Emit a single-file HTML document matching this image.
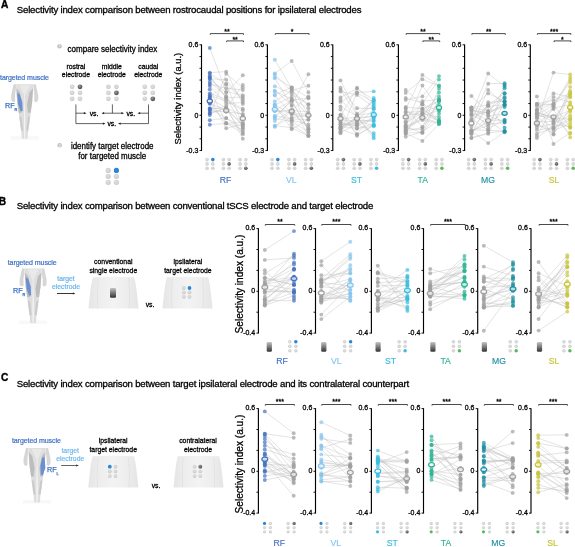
<!DOCTYPE html>
<html><head><meta charset="utf-8"><title>Selectivity index comparison</title>
<style>
html,body{margin:0;padding:0;background:#fff;}
svg{display:block;font-family:'Liberation Sans', Arial, Helvetica, sans-serif;}
</style></head>
<body>
<svg width="575" height="547" viewBox="0 0 575 547">
<defs><radialGradient id="gd" cx="0.45" cy="0.4" r="0.6"><stop offset="0" stop-color="#e2e2e2"/><stop offset="1" stop-color="#c8c8c8"/></radialGradient><radialGradient id="gk" cx="0.4" cy="0.35" r="0.7"><stop offset="0" stop-color="#9a9a9a"/><stop offset="1" stop-color="#404040"/></radialGradient><linearGradient id="ge" x1="0" y1="0" x2="0" y2="1"><stop offset="0" stop-color="#c4c4c4"/><stop offset="1" stop-color="#333"/></linearGradient><linearGradient id="gtor" x1="0" y1="0" x2="1" y2="0"><stop offset="0" stop-color="#e5e5e5"/><stop offset="0.25" stop-color="#eeeeee"/><stop offset="0.5" stop-color="#f3f3f3"/><stop offset="0.75" stop-color="#eeeeee"/><stop offset="1" stop-color="#e5e5e5"/></linearGradient></defs>
<text transform="translate(1.00,7.90) scale(1,1.04)" font-size="10.2" fill="#000" font-weight="bold" stroke="#000" stroke-width="0.35" >A</text>
<text x="16.80" y="12.60" font-size="9.6" fill="#000" stroke="#000" stroke-width="0.3" letter-spacing="-0.18">Selectivity index comparison between rostrocaudal positions for ipsilateral electrodes</text>
<text transform="translate(-1.20,204.60) scale(1,1.04)" font-size="10.2" fill="#000" font-weight="bold" stroke="#000" stroke-width="0.35" >B</text>
<text x="16.70" y="208.50" font-size="9.6" fill="#000" stroke="#000" stroke-width="0.3" letter-spacing="-0.18">Selectivity index comparison between conventional tSCS electrode and target electrode</text>
<text transform="translate(1.00,380.80) scale(1,1.04)" font-size="10.2" fill="#000" font-weight="bold" stroke="#000" stroke-width="0.35" >C</text>
<text x="16.70" y="386.60" font-size="9.6" fill="#000" stroke="#000" stroke-width="0.3" letter-spacing="-0.18">Selectivity index comparison between target ipsilateral electrode and its contralateral counterpart</text>
<line x1="201.50" y1="44.40" x2="201.50" y2="150.95" stroke="#000" stroke-width="1.15" />
<line x1="199.50" y1="44.80" x2="201.50" y2="44.80" stroke="#000" stroke-width="0.9" />
<line x1="199.50" y1="56.55" x2="201.50" y2="56.55" stroke="#000" stroke-width="0.9" />
<line x1="199.50" y1="68.30" x2="201.50" y2="68.30" stroke="#000" stroke-width="0.9" />
<line x1="199.50" y1="80.05" x2="201.50" y2="80.05" stroke="#000" stroke-width="0.9" />
<line x1="199.50" y1="91.80" x2="201.50" y2="91.80" stroke="#000" stroke-width="0.9" />
<line x1="199.50" y1="103.55" x2="201.50" y2="103.55" stroke="#000" stroke-width="0.9" />
<line x1="199.50" y1="115.30" x2="201.50" y2="115.30" stroke="#000" stroke-width="0.9" />
<line x1="199.50" y1="127.05" x2="201.50" y2="127.05" stroke="#000" stroke-width="0.9" />
<line x1="199.50" y1="138.80" x2="201.50" y2="138.80" stroke="#000" stroke-width="0.9" />
<line x1="199.50" y1="150.55" x2="201.50" y2="150.55" stroke="#000" stroke-width="0.9" />
<text transform="translate(198.30,47.00) scale(1,1.04)" font-size="7.0" text-anchor="end" fill="#000" stroke="#000" stroke-width="0.27" >0.6</text>
<text transform="translate(198.30,117.50) scale(1,1.04)" font-size="7.0" text-anchor="end" fill="#000" stroke="#000" stroke-width="0.27" >0</text>
<text transform="translate(198.30,152.75) scale(1,1.04)" font-size="7.0" text-anchor="end" fill="#000" stroke="#000" stroke-width="0.27" >-0.3</text>
<g fill="none" stroke="#c2c2c2" stroke-width="0.45"><polyline points="209.8,76.2 226.2,97.9 242.8,97.0"/><polyline points="209.8,76.9 226.2,97.0 242.8,116.5"/><polyline points="209.8,86.0 226.2,103.6 242.8,102.4"/><polyline points="209.8,47.9 226.2,91.6 242.8,95.2"/><polyline points="209.8,95.3 226.2,101.2 242.8,110.2"/><polyline points="209.8,108.4 226.2,108.7 242.8,134.3"/><polyline points="209.8,113.0 226.2,108.1 242.8,85.0"/><polyline points="209.8,72.6 226.2,71.6 242.8,104.1"/><polyline points="209.8,124.7 226.2,123.4 242.8,122.3"/><polyline points="209.8,110.9 226.2,111.8 242.8,113.9"/><polyline points="209.8,98.7 226.2,107.8 242.8,115.1"/><polyline points="209.8,97.2 226.2,128.3 242.8,124.4"/><polyline points="209.8,108.5 226.2,118.1 242.8,131.5"/><polyline points="209.8,81.9 226.2,96.4 242.8,128.1"/><polyline points="209.8,89.4 226.2,123.0 242.8,129.4"/><polyline points="209.8,78.7 226.2,79.8 242.8,100.6"/><polyline points="209.8,84.0 226.2,88.3 242.8,90.0"/><polyline points="209.8,113.6 226.2,108.3 242.8,125.8"/><polyline points="209.8,115.1 226.2,73.7 242.8,87.5"/><polyline points="209.8,109.9 226.2,106.0 242.8,138.8"/><polyline points="209.8,78.8 226.2,93.0 242.8,75.2"/><polyline points="209.8,93.5 226.2,99.3 242.8,108.7"/><polyline points="209.8,103.7 226.2,109.8 242.8,123.7"/><polyline points="209.8,120.2 226.2,118.1 242.8,127.4"/><polyline points="209.8,73.7 226.2,83.9 242.8,125.5"/><polyline points="209.8,96.9 226.2,84.3 242.8,98.7"/><polyline points="209.8,103.2 226.2,123.4 242.8,133.1"/></g>
<g fill="#4572c0" fill-opacity="0.7"><circle cx="209.8" cy="76.2" r="1.95"/><circle cx="209.8" cy="76.9" r="1.95"/><circle cx="209.8" cy="86.0" r="1.95"/><circle cx="209.8" cy="47.9" r="1.95"/><circle cx="209.8" cy="95.3" r="1.95"/><circle cx="209.8" cy="108.4" r="1.95"/><circle cx="209.8" cy="113.0" r="1.95"/><circle cx="209.8" cy="72.6" r="1.95"/><circle cx="209.8" cy="124.7" r="1.95"/><circle cx="209.8" cy="110.9" r="1.95"/><circle cx="209.8" cy="98.7" r="1.95"/><circle cx="209.8" cy="97.2" r="1.95"/><circle cx="209.8" cy="108.5" r="1.95"/><circle cx="209.8" cy="81.9" r="1.95"/><circle cx="209.8" cy="89.4" r="1.95"/><circle cx="209.8" cy="78.7" r="1.95"/><circle cx="209.8" cy="84.0" r="1.95"/><circle cx="209.8" cy="113.6" r="1.95"/><circle cx="209.8" cy="115.1" r="1.95"/><circle cx="209.8" cy="109.9" r="1.95"/><circle cx="209.8" cy="78.8" r="1.95"/><circle cx="209.8" cy="93.5" r="1.95"/><circle cx="209.8" cy="103.7" r="1.95"/><circle cx="209.8" cy="120.2" r="1.95"/><circle cx="209.8" cy="73.7" r="1.95"/><circle cx="209.8" cy="96.9" r="1.95"/><circle cx="209.8" cy="103.2" r="1.95"/></g>
<g fill="#a0a0a0" fill-opacity="0.7"><circle cx="226.2" cy="97.9" r="1.95"/><circle cx="226.2" cy="97.0" r="1.95"/><circle cx="226.2" cy="103.6" r="1.95"/><circle cx="226.2" cy="91.6" r="1.95"/><circle cx="226.2" cy="101.2" r="1.95"/><circle cx="226.2" cy="108.7" r="1.95"/><circle cx="226.2" cy="108.1" r="1.95"/><circle cx="226.2" cy="71.6" r="1.95"/><circle cx="226.2" cy="123.4" r="1.95"/><circle cx="226.2" cy="111.8" r="1.95"/><circle cx="226.2" cy="107.8" r="1.95"/><circle cx="226.2" cy="128.3" r="1.95"/><circle cx="226.2" cy="118.1" r="1.95"/><circle cx="226.2" cy="96.4" r="1.95"/><circle cx="226.2" cy="123.0" r="1.95"/><circle cx="226.2" cy="79.8" r="1.95"/><circle cx="226.2" cy="88.3" r="1.95"/><circle cx="226.2" cy="108.3" r="1.95"/><circle cx="226.2" cy="73.7" r="1.95"/><circle cx="226.2" cy="106.0" r="1.95"/><circle cx="226.2" cy="93.0" r="1.95"/><circle cx="226.2" cy="99.3" r="1.95"/><circle cx="226.2" cy="109.8" r="1.95"/><circle cx="226.2" cy="118.1" r="1.95"/><circle cx="226.2" cy="83.9" r="1.95"/><circle cx="226.2" cy="84.3" r="1.95"/><circle cx="226.2" cy="123.4" r="1.95"/></g>
<g fill="#a0a0a0" fill-opacity="0.7"><circle cx="242.8" cy="97.0" r="1.95"/><circle cx="242.8" cy="116.5" r="1.95"/><circle cx="242.8" cy="102.4" r="1.95"/><circle cx="242.8" cy="95.2" r="1.95"/><circle cx="242.8" cy="110.2" r="1.95"/><circle cx="242.8" cy="134.3" r="1.95"/><circle cx="242.8" cy="85.0" r="1.95"/><circle cx="242.8" cy="104.1" r="1.95"/><circle cx="242.8" cy="122.3" r="1.95"/><circle cx="242.8" cy="113.9" r="1.95"/><circle cx="242.8" cy="115.1" r="1.95"/><circle cx="242.8" cy="124.4" r="1.95"/><circle cx="242.8" cy="131.5" r="1.95"/><circle cx="242.8" cy="128.1" r="1.95"/><circle cx="242.8" cy="129.4" r="1.95"/><circle cx="242.8" cy="100.6" r="1.95"/><circle cx="242.8" cy="90.0" r="1.95"/><circle cx="242.8" cy="125.8" r="1.95"/><circle cx="242.8" cy="87.5" r="1.95"/><circle cx="242.8" cy="138.8" r="1.95"/><circle cx="242.8" cy="75.2" r="1.95"/><circle cx="242.8" cy="108.7" r="1.95"/><circle cx="242.8" cy="123.7" r="1.95"/><circle cx="242.8" cy="127.4" r="1.95"/><circle cx="242.8" cy="125.5" r="1.95"/><circle cx="242.8" cy="98.7" r="1.95"/><circle cx="242.8" cy="133.1" r="1.95"/></g>
<ellipse cx="209.8" cy="101.0" rx="2.6" ry="2.0" fill="#fff" fill-opacity="0.7" stroke="#4572c0" stroke-width="1.25"/>
<ellipse cx="226.2" cy="110.6" rx="2.6" ry="2.0" fill="#fff" fill-opacity="0.7" stroke="#a0a0a0" stroke-width="1.25"/>
<ellipse cx="242.8" cy="118.4" rx="2.6" ry="2.0" fill="#fff" fill-opacity="0.7" stroke="#a0a0a0" stroke-width="1.25"/>
<path d="M210.3,34.8V33.6H243.5V34.8" fill="none" stroke="#2a2a2a" stroke-width="0.85"/>
<text transform="translate(226.90,33.50) scale(1,1.04)" font-size="7" text-anchor="middle" fill="#000" stroke="#000" stroke-width="0.3" >**</text>
<path d="M226.7,42.1V40.9H243.5V42.1" fill="none" stroke="#2a2a2a" stroke-width="0.85"/>
<text transform="translate(235.10,41.80) scale(1,1.04)" font-size="7" text-anchor="middle" fill="#000" stroke="#000" stroke-width="0.3" >**</text>
<line x1="267.40" y1="44.40" x2="267.40" y2="150.95" stroke="#000" stroke-width="1.15" />
<line x1="265.40" y1="44.80" x2="267.40" y2="44.80" stroke="#000" stroke-width="0.9" />
<line x1="265.40" y1="56.55" x2="267.40" y2="56.55" stroke="#000" stroke-width="0.9" />
<line x1="265.40" y1="68.30" x2="267.40" y2="68.30" stroke="#000" stroke-width="0.9" />
<line x1="265.40" y1="80.05" x2="267.40" y2="80.05" stroke="#000" stroke-width="0.9" />
<line x1="265.40" y1="91.80" x2="267.40" y2="91.80" stroke="#000" stroke-width="0.9" />
<line x1="265.40" y1="103.55" x2="267.40" y2="103.55" stroke="#000" stroke-width="0.9" />
<line x1="265.40" y1="115.30" x2="267.40" y2="115.30" stroke="#000" stroke-width="0.9" />
<line x1="265.40" y1="127.05" x2="267.40" y2="127.05" stroke="#000" stroke-width="0.9" />
<line x1="265.40" y1="138.80" x2="267.40" y2="138.80" stroke="#000" stroke-width="0.9" />
<line x1="265.40" y1="150.55" x2="267.40" y2="150.55" stroke="#000" stroke-width="0.9" />
<text transform="translate(264.20,47.00) scale(1,1.04)" font-size="7.0" text-anchor="end" fill="#000" stroke="#000" stroke-width="0.27" >0.6</text>
<text transform="translate(264.20,117.50) scale(1,1.04)" font-size="7.0" text-anchor="end" fill="#000" stroke="#000" stroke-width="0.27" >0</text>
<text transform="translate(264.20,152.75) scale(1,1.04)" font-size="7.0" text-anchor="end" fill="#000" stroke="#000" stroke-width="0.27" >-0.3</text>
<g fill="none" stroke="#c2c2c2" stroke-width="0.45"><polyline points="274.8,110.8 291.7,112.6 308.4,126.8"/><polyline points="274.8,74.3 291.7,91.4 308.4,104.3"/><polyline points="274.8,104.6 291.7,129.3 308.4,119.4"/><polyline points="274.8,105.2 291.7,96.7 308.4,115.9"/><polyline points="274.8,118.0 291.7,100.1 308.4,98.2"/><polyline points="274.8,86.2 291.7,93.8 308.4,104.7"/><polyline points="274.8,126.9 291.7,110.6 308.4,128.6"/><polyline points="274.8,111.3 291.7,110.3 308.4,96.4"/><polyline points="274.8,116.3 291.7,101.2 308.4,129.4"/><polyline points="274.8,77.1 291.7,87.5 308.4,97.7"/><polyline points="274.8,95.6 291.7,113.9 308.4,113.9"/><polyline points="274.8,78.3 291.7,105.9 308.4,135.7"/><polyline points="274.8,101.4 291.7,90.4 308.4,85.7"/><polyline points="274.8,94.5 291.7,87.5 308.4,114.7"/><polyline points="274.8,107.0 291.7,120.3 308.4,124.5"/><polyline points="274.8,59.7 291.7,88.5 308.4,132.7"/><polyline points="274.8,107.4 291.7,124.3 308.4,135.7"/><polyline points="274.8,126.0 291.7,117.5 308.4,115.3"/><polyline points="274.8,118.6 291.7,121.3 308.4,132.1"/><polyline points="274.8,90.7 291.7,104.7 308.4,74.2"/><polyline points="274.8,110.4 291.7,100.5 308.4,129.4"/><polyline points="274.8,91.4 291.7,99.0 308.4,108.3"/><polyline points="274.8,73.4 291.7,61.0 308.4,92.3"/><polyline points="274.8,104.8 291.7,114.3 308.4,116.3"/><polyline points="274.8,125.6 291.7,127.8 308.4,135.9"/><polyline points="274.8,116.0 291.7,118.9 308.4,119.8"/><polyline points="274.8,121.1 291.7,110.4 308.4,111.9"/></g>
<g fill="#86c5ee" fill-opacity="0.7"><circle cx="274.8" cy="110.8" r="1.95"/><circle cx="274.8" cy="74.3" r="1.95"/><circle cx="274.8" cy="104.6" r="1.95"/><circle cx="274.8" cy="105.2" r="1.95"/><circle cx="274.8" cy="118.0" r="1.95"/><circle cx="274.8" cy="86.2" r="1.95"/><circle cx="274.8" cy="126.9" r="1.95"/><circle cx="274.8" cy="111.3" r="1.95"/><circle cx="274.8" cy="116.3" r="1.95"/><circle cx="274.8" cy="77.1" r="1.95"/><circle cx="274.8" cy="95.6" r="1.95"/><circle cx="274.8" cy="78.3" r="1.95"/><circle cx="274.8" cy="101.4" r="1.95"/><circle cx="274.8" cy="94.5" r="1.95"/><circle cx="274.8" cy="107.0" r="1.95"/><circle cx="274.8" cy="59.7" r="1.95"/><circle cx="274.8" cy="107.4" r="1.95"/><circle cx="274.8" cy="126.0" r="1.95"/><circle cx="274.8" cy="118.6" r="1.95"/><circle cx="274.8" cy="90.7" r="1.95"/><circle cx="274.8" cy="110.4" r="1.95"/><circle cx="274.8" cy="91.4" r="1.95"/><circle cx="274.8" cy="73.4" r="1.95"/><circle cx="274.8" cy="104.8" r="1.95"/><circle cx="274.8" cy="125.6" r="1.95"/><circle cx="274.8" cy="116.0" r="1.95"/><circle cx="274.8" cy="121.1" r="1.95"/></g>
<g fill="#a0a0a0" fill-opacity="0.7"><circle cx="291.7" cy="112.6" r="1.95"/><circle cx="291.7" cy="91.4" r="1.95"/><circle cx="291.7" cy="129.3" r="1.95"/><circle cx="291.7" cy="96.7" r="1.95"/><circle cx="291.7" cy="100.1" r="1.95"/><circle cx="291.7" cy="93.8" r="1.95"/><circle cx="291.7" cy="110.6" r="1.95"/><circle cx="291.7" cy="110.3" r="1.95"/><circle cx="291.7" cy="101.2" r="1.95"/><circle cx="291.7" cy="87.5" r="1.95"/><circle cx="291.7" cy="113.9" r="1.95"/><circle cx="291.7" cy="105.9" r="1.95"/><circle cx="291.7" cy="90.4" r="1.95"/><circle cx="291.7" cy="87.5" r="1.95"/><circle cx="291.7" cy="120.3" r="1.95"/><circle cx="291.7" cy="88.5" r="1.95"/><circle cx="291.7" cy="124.3" r="1.95"/><circle cx="291.7" cy="117.5" r="1.95"/><circle cx="291.7" cy="121.3" r="1.95"/><circle cx="291.7" cy="104.7" r="1.95"/><circle cx="291.7" cy="100.5" r="1.95"/><circle cx="291.7" cy="99.0" r="1.95"/><circle cx="291.7" cy="61.0" r="1.95"/><circle cx="291.7" cy="114.3" r="1.95"/><circle cx="291.7" cy="127.8" r="1.95"/><circle cx="291.7" cy="118.9" r="1.95"/><circle cx="291.7" cy="110.4" r="1.95"/></g>
<g fill="#a0a0a0" fill-opacity="0.7"><circle cx="308.4" cy="126.8" r="1.95"/><circle cx="308.4" cy="104.3" r="1.95"/><circle cx="308.4" cy="119.4" r="1.95"/><circle cx="308.4" cy="115.9" r="1.95"/><circle cx="308.4" cy="98.2" r="1.95"/><circle cx="308.4" cy="104.7" r="1.95"/><circle cx="308.4" cy="128.6" r="1.95"/><circle cx="308.4" cy="96.4" r="1.95"/><circle cx="308.4" cy="129.4" r="1.95"/><circle cx="308.4" cy="97.7" r="1.95"/><circle cx="308.4" cy="113.9" r="1.95"/><circle cx="308.4" cy="135.7" r="1.95"/><circle cx="308.4" cy="85.7" r="1.95"/><circle cx="308.4" cy="114.7" r="1.95"/><circle cx="308.4" cy="124.5" r="1.95"/><circle cx="308.4" cy="132.7" r="1.95"/><circle cx="308.4" cy="135.7" r="1.95"/><circle cx="308.4" cy="115.3" r="1.95"/><circle cx="308.4" cy="132.1" r="1.95"/><circle cx="308.4" cy="74.2" r="1.95"/><circle cx="308.4" cy="129.4" r="1.95"/><circle cx="308.4" cy="108.3" r="1.95"/><circle cx="308.4" cy="92.3" r="1.95"/><circle cx="308.4" cy="116.3" r="1.95"/><circle cx="308.4" cy="135.9" r="1.95"/><circle cx="308.4" cy="119.8" r="1.95"/><circle cx="308.4" cy="111.9" r="1.95"/></g>
<ellipse cx="274.8" cy="109.3" rx="2.6" ry="2.0" fill="#fff" fill-opacity="0.7" stroke="#86c5ee" stroke-width="1.25"/>
<ellipse cx="291.7" cy="111.2" rx="2.6" ry="2.0" fill="#fff" fill-opacity="0.7" stroke="#a0a0a0" stroke-width="1.25"/>
<ellipse cx="308.4" cy="115.3" rx="2.6" ry="2.0" fill="#fff" fill-opacity="0.7" stroke="#a0a0a0" stroke-width="1.25"/>
<path d="M275.3,34.8V33.6H309.1V34.8" fill="none" stroke="#2a2a2a" stroke-width="0.85"/>
<text transform="translate(292.20,33.50) scale(1,1.04)" font-size="7" text-anchor="middle" fill="#000" stroke="#000" stroke-width="0.3" >*</text>
<line x1="332.80" y1="44.40" x2="332.80" y2="150.95" stroke="#000" stroke-width="1.15" />
<line x1="330.80" y1="44.80" x2="332.80" y2="44.80" stroke="#000" stroke-width="0.9" />
<line x1="330.80" y1="56.55" x2="332.80" y2="56.55" stroke="#000" stroke-width="0.9" />
<line x1="330.80" y1="68.30" x2="332.80" y2="68.30" stroke="#000" stroke-width="0.9" />
<line x1="330.80" y1="80.05" x2="332.80" y2="80.05" stroke="#000" stroke-width="0.9" />
<line x1="330.80" y1="91.80" x2="332.80" y2="91.80" stroke="#000" stroke-width="0.9" />
<line x1="330.80" y1="103.55" x2="332.80" y2="103.55" stroke="#000" stroke-width="0.9" />
<line x1="330.80" y1="115.30" x2="332.80" y2="115.30" stroke="#000" stroke-width="0.9" />
<line x1="330.80" y1="127.05" x2="332.80" y2="127.05" stroke="#000" stroke-width="0.9" />
<line x1="330.80" y1="138.80" x2="332.80" y2="138.80" stroke="#000" stroke-width="0.9" />
<line x1="330.80" y1="150.55" x2="332.80" y2="150.55" stroke="#000" stroke-width="0.9" />
<text transform="translate(329.60,47.00) scale(1,1.04)" font-size="7.0" text-anchor="end" fill="#000" stroke="#000" stroke-width="0.27" >0.6</text>
<text transform="translate(329.60,117.50) scale(1,1.04)" font-size="7.0" text-anchor="end" fill="#000" stroke="#000" stroke-width="0.27" >0</text>
<text transform="translate(329.60,152.75) scale(1,1.04)" font-size="7.0" text-anchor="end" fill="#000" stroke="#000" stroke-width="0.27" >-0.3</text>
<g fill="none" stroke="#c2c2c2" stroke-width="0.45"><polyline points="340.5,80.4 357.0,113.8 373.7,100.3"/><polyline points="340.5,97.4 357.0,88.6 373.7,99.9"/><polyline points="340.5,106.4 357.0,116.3 373.7,138.3"/><polyline points="340.5,119.3 357.0,116.9 373.7,100.8"/><polyline points="340.5,120.8 357.0,120.9 373.7,120.9"/><polyline points="340.5,129.5 357.0,134.8 373.7,125.4"/><polyline points="340.5,128.4 357.0,121.5 373.7,125.4"/><polyline points="340.5,131.3 357.0,115.5 373.7,112.7"/><polyline points="340.5,124.5 357.0,123.4 373.7,98.0"/><polyline points="340.5,133.2 357.0,92.5 373.7,91.4"/><polyline points="340.5,127.8 357.0,117.3 373.7,116.4"/><polyline points="340.5,87.8 357.0,108.2 373.7,108.6"/><polyline points="340.5,127.9 357.0,118.4 373.7,116.5"/><polyline points="340.5,122.6 357.0,125.5 373.7,109.2"/><polyline points="340.5,126.6 357.0,128.6 373.7,126.2"/><polyline points="340.5,101.9 357.0,92.8 373.7,102.4"/><polyline points="340.5,122.1 357.0,128.5 373.7,124.1"/><polyline points="340.5,114.9 357.0,124.7 373.7,117.7"/><polyline points="340.5,89.7 357.0,115.2 373.7,105.8"/><polyline points="340.5,124.3 357.0,125.7 373.7,118.8"/><polyline points="340.5,114.6 357.0,133.9 373.7,115.0"/><polyline points="340.5,99.7 357.0,116.7 373.7,135.7"/><polyline points="340.5,116.5 357.0,87.8 373.7,104.1"/><polyline points="340.5,91.6 357.0,94.9 373.7,107.2"/><polyline points="340.5,109.6 357.0,135.7 373.7,125.1"/><polyline points="340.5,132.4 357.0,124.0 373.7,133.2"/><polyline points="340.5,126.5 357.0,120.0 373.7,121.1"/></g>
<g fill="#a0a0a0" fill-opacity="0.7"><circle cx="340.5" cy="80.4" r="1.95"/><circle cx="340.5" cy="97.4" r="1.95"/><circle cx="340.5" cy="106.4" r="1.95"/><circle cx="340.5" cy="119.3" r="1.95"/><circle cx="340.5" cy="120.8" r="1.95"/><circle cx="340.5" cy="129.5" r="1.95"/><circle cx="340.5" cy="128.4" r="1.95"/><circle cx="340.5" cy="131.3" r="1.95"/><circle cx="340.5" cy="124.5" r="1.95"/><circle cx="340.5" cy="133.2" r="1.95"/><circle cx="340.5" cy="127.8" r="1.95"/><circle cx="340.5" cy="87.8" r="1.95"/><circle cx="340.5" cy="127.9" r="1.95"/><circle cx="340.5" cy="122.6" r="1.95"/><circle cx="340.5" cy="126.6" r="1.95"/><circle cx="340.5" cy="101.9" r="1.95"/><circle cx="340.5" cy="122.1" r="1.95"/><circle cx="340.5" cy="114.9" r="1.95"/><circle cx="340.5" cy="89.7" r="1.95"/><circle cx="340.5" cy="124.3" r="1.95"/><circle cx="340.5" cy="114.6" r="1.95"/><circle cx="340.5" cy="99.7" r="1.95"/><circle cx="340.5" cy="116.5" r="1.95"/><circle cx="340.5" cy="91.6" r="1.95"/><circle cx="340.5" cy="109.6" r="1.95"/><circle cx="340.5" cy="132.4" r="1.95"/><circle cx="340.5" cy="126.5" r="1.95"/></g>
<g fill="#a0a0a0" fill-opacity="0.7"><circle cx="357.0" cy="113.8" r="1.95"/><circle cx="357.0" cy="88.6" r="1.95"/><circle cx="357.0" cy="116.3" r="1.95"/><circle cx="357.0" cy="116.9" r="1.95"/><circle cx="357.0" cy="120.9" r="1.95"/><circle cx="357.0" cy="134.8" r="1.95"/><circle cx="357.0" cy="121.5" r="1.95"/><circle cx="357.0" cy="115.5" r="1.95"/><circle cx="357.0" cy="123.4" r="1.95"/><circle cx="357.0" cy="92.5" r="1.95"/><circle cx="357.0" cy="117.3" r="1.95"/><circle cx="357.0" cy="108.2" r="1.95"/><circle cx="357.0" cy="118.4" r="1.95"/><circle cx="357.0" cy="125.5" r="1.95"/><circle cx="357.0" cy="128.6" r="1.95"/><circle cx="357.0" cy="92.8" r="1.95"/><circle cx="357.0" cy="128.5" r="1.95"/><circle cx="357.0" cy="124.7" r="1.95"/><circle cx="357.0" cy="115.2" r="1.95"/><circle cx="357.0" cy="125.7" r="1.95"/><circle cx="357.0" cy="133.9" r="1.95"/><circle cx="357.0" cy="116.7" r="1.95"/><circle cx="357.0" cy="87.8" r="1.95"/><circle cx="357.0" cy="94.9" r="1.95"/><circle cx="357.0" cy="135.7" r="1.95"/><circle cx="357.0" cy="124.0" r="1.95"/><circle cx="357.0" cy="120.0" r="1.95"/></g>
<g fill="#3cbde0" fill-opacity="0.7"><circle cx="373.7" cy="100.3" r="1.95"/><circle cx="373.7" cy="99.9" r="1.95"/><circle cx="373.7" cy="138.3" r="1.95"/><circle cx="373.7" cy="100.8" r="1.95"/><circle cx="373.7" cy="120.9" r="1.95"/><circle cx="373.7" cy="125.4" r="1.95"/><circle cx="373.7" cy="125.4" r="1.95"/><circle cx="373.7" cy="112.7" r="1.95"/><circle cx="373.7" cy="98.0" r="1.95"/><circle cx="373.7" cy="91.4" r="1.95"/><circle cx="373.7" cy="116.4" r="1.95"/><circle cx="373.7" cy="108.6" r="1.95"/><circle cx="373.7" cy="116.5" r="1.95"/><circle cx="373.7" cy="109.2" r="1.95"/><circle cx="373.7" cy="126.2" r="1.95"/><circle cx="373.7" cy="102.4" r="1.95"/><circle cx="373.7" cy="124.1" r="1.95"/><circle cx="373.7" cy="117.7" r="1.95"/><circle cx="373.7" cy="105.8" r="1.95"/><circle cx="373.7" cy="118.8" r="1.95"/><circle cx="373.7" cy="115.0" r="1.95"/><circle cx="373.7" cy="135.7" r="1.95"/><circle cx="373.7" cy="104.1" r="1.95"/><circle cx="373.7" cy="107.2" r="1.95"/><circle cx="373.7" cy="125.1" r="1.95"/><circle cx="373.7" cy="133.2" r="1.95"/><circle cx="373.7" cy="121.1" r="1.95"/></g>
<ellipse cx="340.5" cy="118.5" rx="2.6" ry="2.0" fill="#fff" fill-opacity="0.7" stroke="#a0a0a0" stroke-width="1.25"/>
<ellipse cx="357.0" cy="118.5" rx="2.6" ry="2.0" fill="#fff" fill-opacity="0.7" stroke="#a0a0a0" stroke-width="1.25"/>
<ellipse cx="373.7" cy="114.7" rx="2.6" ry="2.0" fill="#fff" fill-opacity="0.7" stroke="#3cbde0" stroke-width="1.25"/>
<line x1="398.40" y1="44.40" x2="398.40" y2="150.95" stroke="#000" stroke-width="1.15" />
<line x1="396.40" y1="44.80" x2="398.40" y2="44.80" stroke="#000" stroke-width="0.9" />
<line x1="396.40" y1="56.55" x2="398.40" y2="56.55" stroke="#000" stroke-width="0.9" />
<line x1="396.40" y1="68.30" x2="398.40" y2="68.30" stroke="#000" stroke-width="0.9" />
<line x1="396.40" y1="80.05" x2="398.40" y2="80.05" stroke="#000" stroke-width="0.9" />
<line x1="396.40" y1="91.80" x2="398.40" y2="91.80" stroke="#000" stroke-width="0.9" />
<line x1="396.40" y1="103.55" x2="398.40" y2="103.55" stroke="#000" stroke-width="0.9" />
<line x1="396.40" y1="115.30" x2="398.40" y2="115.30" stroke="#000" stroke-width="0.9" />
<line x1="396.40" y1="127.05" x2="398.40" y2="127.05" stroke="#000" stroke-width="0.9" />
<line x1="396.40" y1="138.80" x2="398.40" y2="138.80" stroke="#000" stroke-width="0.9" />
<line x1="396.40" y1="150.55" x2="398.40" y2="150.55" stroke="#000" stroke-width="0.9" />
<text transform="translate(395.20,47.00) scale(1,1.04)" font-size="7.0" text-anchor="end" fill="#000" stroke="#000" stroke-width="0.27" >0.6</text>
<text transform="translate(395.20,117.50) scale(1,1.04)" font-size="7.0" text-anchor="end" fill="#000" stroke="#000" stroke-width="0.27" >0</text>
<text transform="translate(395.20,152.75) scale(1,1.04)" font-size="7.0" text-anchor="end" fill="#000" stroke="#000" stroke-width="0.27" >-0.3</text>
<g fill="none" stroke="#c2c2c2" stroke-width="0.45"><polyline points="405.7,124.4 422.4,108.8 439.0,121.2"/><polyline points="405.7,131.2 422.4,127.5 439.0,100.6"/><polyline points="405.7,130.5 422.4,118.0 439.0,122.9"/><polyline points="405.7,97.9 422.4,103.1 439.0,79.6"/><polyline points="405.7,89.9 422.4,104.4 439.0,111.1"/><polyline points="405.7,133.7 422.4,101.2 439.0,99.5"/><polyline points="405.7,127.5 422.4,117.8 439.0,92.5"/><polyline points="405.7,126.3 422.4,120.1 439.0,123.4"/><polyline points="405.7,92.9 422.4,79.3 439.0,86.2"/><polyline points="405.7,112.3 422.4,111.5 439.0,96.5"/><polyline points="405.7,133.4 422.4,141.0 439.0,124.2"/><polyline points="405.7,136.7 422.4,132.1 439.0,119.9"/><polyline points="405.7,116.4 422.4,104.5 439.0,121.2"/><polyline points="405.7,106.9 422.4,108.9 439.0,100.8"/><polyline points="405.7,99.9 422.4,96.4 439.0,76.1"/><polyline points="405.7,108.1 422.4,127.0 439.0,88.7"/><polyline points="405.7,131.6 422.4,113.8 439.0,104.7"/><polyline points="405.7,111.8 422.4,115.8 439.0,110.2"/><polyline points="405.7,114.9 422.4,113.7 439.0,117.2"/><polyline points="405.7,128.6 422.4,129.7 439.0,100.0"/><polyline points="405.7,126.7 422.4,133.0 439.0,101.6"/><polyline points="405.7,125.9 422.4,85.5 439.0,108.2"/><polyline points="405.7,122.5 422.4,112.9 439.0,121.1"/><polyline points="405.7,121.2 422.4,108.9 439.0,121.8"/><polyline points="405.7,129.2 422.4,113.6 439.0,99.8"/><polyline points="405.7,109.0 422.4,74.9 439.0,85.5"/><polyline points="405.7,132.9 422.4,132.4 439.0,113.8"/></g>
<g fill="#a0a0a0" fill-opacity="0.7"><circle cx="405.7" cy="124.4" r="1.95"/><circle cx="405.7" cy="131.2" r="1.95"/><circle cx="405.7" cy="130.5" r="1.95"/><circle cx="405.7" cy="97.9" r="1.95"/><circle cx="405.7" cy="89.9" r="1.95"/><circle cx="405.7" cy="133.7" r="1.95"/><circle cx="405.7" cy="127.5" r="1.95"/><circle cx="405.7" cy="126.3" r="1.95"/><circle cx="405.7" cy="92.9" r="1.95"/><circle cx="405.7" cy="112.3" r="1.95"/><circle cx="405.7" cy="133.4" r="1.95"/><circle cx="405.7" cy="136.7" r="1.95"/><circle cx="405.7" cy="116.4" r="1.95"/><circle cx="405.7" cy="106.9" r="1.95"/><circle cx="405.7" cy="99.9" r="1.95"/><circle cx="405.7" cy="108.1" r="1.95"/><circle cx="405.7" cy="131.6" r="1.95"/><circle cx="405.7" cy="111.8" r="1.95"/><circle cx="405.7" cy="114.9" r="1.95"/><circle cx="405.7" cy="128.6" r="1.95"/><circle cx="405.7" cy="126.7" r="1.95"/><circle cx="405.7" cy="125.9" r="1.95"/><circle cx="405.7" cy="122.5" r="1.95"/><circle cx="405.7" cy="121.2" r="1.95"/><circle cx="405.7" cy="129.2" r="1.95"/><circle cx="405.7" cy="109.0" r="1.95"/><circle cx="405.7" cy="132.9" r="1.95"/></g>
<g fill="#a0a0a0" fill-opacity="0.7"><circle cx="422.4" cy="108.8" r="1.95"/><circle cx="422.4" cy="127.5" r="1.95"/><circle cx="422.4" cy="118.0" r="1.95"/><circle cx="422.4" cy="103.1" r="1.95"/><circle cx="422.4" cy="104.4" r="1.95"/><circle cx="422.4" cy="101.2" r="1.95"/><circle cx="422.4" cy="117.8" r="1.95"/><circle cx="422.4" cy="120.1" r="1.95"/><circle cx="422.4" cy="79.3" r="1.95"/><circle cx="422.4" cy="111.5" r="1.95"/><circle cx="422.4" cy="141.0" r="1.95"/><circle cx="422.4" cy="132.1" r="1.95"/><circle cx="422.4" cy="104.5" r="1.95"/><circle cx="422.4" cy="108.9" r="1.95"/><circle cx="422.4" cy="96.4" r="1.95"/><circle cx="422.4" cy="127.0" r="1.95"/><circle cx="422.4" cy="113.8" r="1.95"/><circle cx="422.4" cy="115.8" r="1.95"/><circle cx="422.4" cy="113.7" r="1.95"/><circle cx="422.4" cy="129.7" r="1.95"/><circle cx="422.4" cy="133.0" r="1.95"/><circle cx="422.4" cy="85.5" r="1.95"/><circle cx="422.4" cy="112.9" r="1.95"/><circle cx="422.4" cy="108.9" r="1.95"/><circle cx="422.4" cy="113.6" r="1.95"/><circle cx="422.4" cy="74.9" r="1.95"/><circle cx="422.4" cy="132.4" r="1.95"/></g>
<g fill="#2db596" fill-opacity="0.7"><circle cx="439.0" cy="121.2" r="1.95"/><circle cx="439.0" cy="100.6" r="1.95"/><circle cx="439.0" cy="122.9" r="1.95"/><circle cx="439.0" cy="79.6" r="1.95"/><circle cx="439.0" cy="111.1" r="1.95"/><circle cx="439.0" cy="99.5" r="1.95"/><circle cx="439.0" cy="92.5" r="1.95"/><circle cx="439.0" cy="123.4" r="1.95"/><circle cx="439.0" cy="86.2" r="1.95"/><circle cx="439.0" cy="96.5" r="1.95"/><circle cx="439.0" cy="124.2" r="1.95"/><circle cx="439.0" cy="119.9" r="1.95"/><circle cx="439.0" cy="121.2" r="1.95"/><circle cx="439.0" cy="100.8" r="1.95"/><circle cx="439.0" cy="76.1" r="1.95"/><circle cx="439.0" cy="88.7" r="1.95"/><circle cx="439.0" cy="104.7" r="1.95"/><circle cx="439.0" cy="110.2" r="1.95"/><circle cx="439.0" cy="117.2" r="1.95"/><circle cx="439.0" cy="100.0" r="1.95"/><circle cx="439.0" cy="101.6" r="1.95"/><circle cx="439.0" cy="108.2" r="1.95"/><circle cx="439.0" cy="121.1" r="1.95"/><circle cx="439.0" cy="121.8" r="1.95"/><circle cx="439.0" cy="99.8" r="1.95"/><circle cx="439.0" cy="85.5" r="1.95"/><circle cx="439.0" cy="113.8" r="1.95"/></g>
<ellipse cx="405.7" cy="116.9" rx="2.6" ry="2.0" fill="#fff" fill-opacity="0.7" stroke="#a0a0a0" stroke-width="1.25"/>
<ellipse cx="422.4" cy="117.6" rx="2.6" ry="2.0" fill="#fff" fill-opacity="0.7" stroke="#a0a0a0" stroke-width="1.25"/>
<ellipse cx="439.0" cy="107.7" rx="2.6" ry="2.0" fill="#fff" fill-opacity="0.7" stroke="#2db596" stroke-width="1.25"/>
<path d="M406.2,34.8V33.6H439.7V34.8" fill="none" stroke="#2a2a2a" stroke-width="0.85"/>
<text transform="translate(422.95,33.50) scale(1,1.04)" font-size="7" text-anchor="middle" fill="#000" stroke="#000" stroke-width="0.3" >**</text>
<path d="M422.9,42.1V40.9H439.7V42.1" fill="none" stroke="#2a2a2a" stroke-width="0.85"/>
<text transform="translate(431.30,41.80) scale(1,1.04)" font-size="7" text-anchor="middle" fill="#000" stroke="#000" stroke-width="0.3" >**</text>
<line x1="464.60" y1="44.40" x2="464.60" y2="150.95" stroke="#000" stroke-width="1.15" />
<line x1="462.60" y1="44.80" x2="464.60" y2="44.80" stroke="#000" stroke-width="0.9" />
<line x1="462.60" y1="56.55" x2="464.60" y2="56.55" stroke="#000" stroke-width="0.9" />
<line x1="462.60" y1="68.30" x2="464.60" y2="68.30" stroke="#000" stroke-width="0.9" />
<line x1="462.60" y1="80.05" x2="464.60" y2="80.05" stroke="#000" stroke-width="0.9" />
<line x1="462.60" y1="91.80" x2="464.60" y2="91.80" stroke="#000" stroke-width="0.9" />
<line x1="462.60" y1="103.55" x2="464.60" y2="103.55" stroke="#000" stroke-width="0.9" />
<line x1="462.60" y1="115.30" x2="464.60" y2="115.30" stroke="#000" stroke-width="0.9" />
<line x1="462.60" y1="127.05" x2="464.60" y2="127.05" stroke="#000" stroke-width="0.9" />
<line x1="462.60" y1="138.80" x2="464.60" y2="138.80" stroke="#000" stroke-width="0.9" />
<line x1="462.60" y1="150.55" x2="464.60" y2="150.55" stroke="#000" stroke-width="0.9" />
<text transform="translate(461.40,47.00) scale(1,1.04)" font-size="7.0" text-anchor="end" fill="#000" stroke="#000" stroke-width="0.27" >0.6</text>
<text transform="translate(461.40,117.50) scale(1,1.04)" font-size="7.0" text-anchor="end" fill="#000" stroke="#000" stroke-width="0.27" >0</text>
<text transform="translate(461.40,152.75) scale(1,1.04)" font-size="7.0" text-anchor="end" fill="#000" stroke="#000" stroke-width="0.27" >-0.3</text>
<g fill="none" stroke="#c2c2c2" stroke-width="0.45"><polyline points="471.4,114.0 488.2,124.2 504.6,122.5"/><polyline points="471.4,130.9 488.2,143.1 504.6,132.3"/><polyline points="471.4,109.8 488.2,116.0 504.6,121.8"/><polyline points="471.4,96.0 488.2,112.2 504.6,107.0"/><polyline points="471.4,121.1 488.2,106.5 504.6,104.7"/><polyline points="471.4,108.0 488.2,93.4 504.6,101.7"/><polyline points="471.4,109.5 488.2,112.9 504.6,88.3"/><polyline points="471.4,134.3 488.2,102.3 504.6,101.2"/><polyline points="471.4,114.5 488.2,73.5 504.6,86.3"/><polyline points="471.4,110.5 488.2,113.3 504.6,104.9"/><polyline points="471.4,138.1 488.2,133.7 504.6,101.5"/><polyline points="471.4,137.7 488.2,132.8 504.6,131.2"/><polyline points="471.4,107.7 488.2,128.4 504.6,120.0"/><polyline points="471.4,130.7 488.2,125.9 504.6,93.4"/><polyline points="471.4,107.4 488.2,105.0 504.6,93.2"/><polyline points="471.4,133.1 488.2,115.9 504.6,113.5"/><polyline points="471.4,126.7 488.2,89.9 504.6,104.4"/><polyline points="471.4,133.2 488.2,105.0 504.6,127.8"/><polyline points="471.4,131.2 488.2,122.2 504.6,112.9"/><polyline points="471.4,112.0 488.2,120.5 504.6,120.1"/><polyline points="471.4,132.1 488.2,121.2 504.6,131.5"/><polyline points="471.4,115.6 488.2,112.0 504.6,104.8"/><polyline points="471.4,120.9 488.2,83.7 504.6,83.3"/><polyline points="471.4,120.1 488.2,105.1 504.6,98.3"/><polyline points="471.4,118.5 488.2,130.3 504.6,84.8"/><polyline points="471.4,130.0 488.2,130.3 504.6,131.0"/><polyline points="471.4,107.6 488.2,110.8 504.6,97.0"/></g>
<g fill="#a0a0a0" fill-opacity="0.7"><circle cx="471.4" cy="114.0" r="1.95"/><circle cx="471.4" cy="130.9" r="1.95"/><circle cx="471.4" cy="109.8" r="1.95"/><circle cx="471.4" cy="96.0" r="1.95"/><circle cx="471.4" cy="121.1" r="1.95"/><circle cx="471.4" cy="108.0" r="1.95"/><circle cx="471.4" cy="109.5" r="1.95"/><circle cx="471.4" cy="134.3" r="1.95"/><circle cx="471.4" cy="114.5" r="1.95"/><circle cx="471.4" cy="110.5" r="1.95"/><circle cx="471.4" cy="138.1" r="1.95"/><circle cx="471.4" cy="137.7" r="1.95"/><circle cx="471.4" cy="107.7" r="1.95"/><circle cx="471.4" cy="130.7" r="1.95"/><circle cx="471.4" cy="107.4" r="1.95"/><circle cx="471.4" cy="133.1" r="1.95"/><circle cx="471.4" cy="126.7" r="1.95"/><circle cx="471.4" cy="133.2" r="1.95"/><circle cx="471.4" cy="131.2" r="1.95"/><circle cx="471.4" cy="112.0" r="1.95"/><circle cx="471.4" cy="132.1" r="1.95"/><circle cx="471.4" cy="115.6" r="1.95"/><circle cx="471.4" cy="120.9" r="1.95"/><circle cx="471.4" cy="120.1" r="1.95"/><circle cx="471.4" cy="118.5" r="1.95"/><circle cx="471.4" cy="130.0" r="1.95"/><circle cx="471.4" cy="107.6" r="1.95"/></g>
<g fill="#a0a0a0" fill-opacity="0.7"><circle cx="488.2" cy="124.2" r="1.95"/><circle cx="488.2" cy="143.1" r="1.95"/><circle cx="488.2" cy="116.0" r="1.95"/><circle cx="488.2" cy="112.2" r="1.95"/><circle cx="488.2" cy="106.5" r="1.95"/><circle cx="488.2" cy="93.4" r="1.95"/><circle cx="488.2" cy="112.9" r="1.95"/><circle cx="488.2" cy="102.3" r="1.95"/><circle cx="488.2" cy="73.5" r="1.95"/><circle cx="488.2" cy="113.3" r="1.95"/><circle cx="488.2" cy="133.7" r="1.95"/><circle cx="488.2" cy="132.8" r="1.95"/><circle cx="488.2" cy="128.4" r="1.95"/><circle cx="488.2" cy="125.9" r="1.95"/><circle cx="488.2" cy="105.0" r="1.95"/><circle cx="488.2" cy="115.9" r="1.95"/><circle cx="488.2" cy="89.9" r="1.95"/><circle cx="488.2" cy="105.0" r="1.95"/><circle cx="488.2" cy="122.2" r="1.95"/><circle cx="488.2" cy="120.5" r="1.95"/><circle cx="488.2" cy="121.2" r="1.95"/><circle cx="488.2" cy="112.0" r="1.95"/><circle cx="488.2" cy="83.7" r="1.95"/><circle cx="488.2" cy="105.1" r="1.95"/><circle cx="488.2" cy="130.3" r="1.95"/><circle cx="488.2" cy="130.3" r="1.95"/><circle cx="488.2" cy="110.8" r="1.95"/></g>
<g fill="#2090a2" fill-opacity="0.7"><circle cx="504.6" cy="122.5" r="1.95"/><circle cx="504.6" cy="132.3" r="1.95"/><circle cx="504.6" cy="121.8" r="1.95"/><circle cx="504.6" cy="107.0" r="1.95"/><circle cx="504.6" cy="104.7" r="1.95"/><circle cx="504.6" cy="101.7" r="1.95"/><circle cx="504.6" cy="88.3" r="1.95"/><circle cx="504.6" cy="101.2" r="1.95"/><circle cx="504.6" cy="86.3" r="1.95"/><circle cx="504.6" cy="104.9" r="1.95"/><circle cx="504.6" cy="101.5" r="1.95"/><circle cx="504.6" cy="131.2" r="1.95"/><circle cx="504.6" cy="120.0" r="1.95"/><circle cx="504.6" cy="93.4" r="1.95"/><circle cx="504.6" cy="93.2" r="1.95"/><circle cx="504.6" cy="113.5" r="1.95"/><circle cx="504.6" cy="104.4" r="1.95"/><circle cx="504.6" cy="127.8" r="1.95"/><circle cx="504.6" cy="112.9" r="1.95"/><circle cx="504.6" cy="120.1" r="1.95"/><circle cx="504.6" cy="131.5" r="1.95"/><circle cx="504.6" cy="104.8" r="1.95"/><circle cx="504.6" cy="83.3" r="1.95"/><circle cx="504.6" cy="98.3" r="1.95"/><circle cx="504.6" cy="84.8" r="1.95"/><circle cx="504.6" cy="131.0" r="1.95"/><circle cx="504.6" cy="97.0" r="1.95"/></g>
<ellipse cx="471.4" cy="123.2" rx="2.6" ry="2.0" fill="#fff" fill-opacity="0.7" stroke="#a0a0a0" stroke-width="1.25"/>
<ellipse cx="488.2" cy="120.6" rx="2.6" ry="2.0" fill="#fff" fill-opacity="0.7" stroke="#a0a0a0" stroke-width="1.25"/>
<ellipse cx="504.6" cy="113.3" rx="2.6" ry="2.0" fill="#fff" fill-opacity="0.7" stroke="#2090a2" stroke-width="1.25"/>
<path d="M471.9,34.8V33.6H505.3V34.8" fill="none" stroke="#2a2a2a" stroke-width="0.85"/>
<text transform="translate(488.60,33.50) scale(1,1.04)" font-size="7" text-anchor="middle" fill="#000" stroke="#000" stroke-width="0.3" >**</text>
<line x1="530.30" y1="44.40" x2="530.30" y2="150.95" stroke="#000" stroke-width="1.15" />
<line x1="528.30" y1="44.80" x2="530.30" y2="44.80" stroke="#000" stroke-width="0.9" />
<line x1="528.30" y1="56.55" x2="530.30" y2="56.55" stroke="#000" stroke-width="0.9" />
<line x1="528.30" y1="68.30" x2="530.30" y2="68.30" stroke="#000" stroke-width="0.9" />
<line x1="528.30" y1="80.05" x2="530.30" y2="80.05" stroke="#000" stroke-width="0.9" />
<line x1="528.30" y1="91.80" x2="530.30" y2="91.80" stroke="#000" stroke-width="0.9" />
<line x1="528.30" y1="103.55" x2="530.30" y2="103.55" stroke="#000" stroke-width="0.9" />
<line x1="528.30" y1="115.30" x2="530.30" y2="115.30" stroke="#000" stroke-width="0.9" />
<line x1="528.30" y1="127.05" x2="530.30" y2="127.05" stroke="#000" stroke-width="0.9" />
<line x1="528.30" y1="138.80" x2="530.30" y2="138.80" stroke="#000" stroke-width="0.9" />
<line x1="528.30" y1="150.55" x2="530.30" y2="150.55" stroke="#000" stroke-width="0.9" />
<text transform="translate(527.10,47.00) scale(1,1.04)" font-size="7.0" text-anchor="end" fill="#000" stroke="#000" stroke-width="0.27" >0.6</text>
<text transform="translate(527.10,117.50) scale(1,1.04)" font-size="7.0" text-anchor="end" fill="#000" stroke="#000" stroke-width="0.27" >0</text>
<text transform="translate(527.10,152.75) scale(1,1.04)" font-size="7.0" text-anchor="end" fill="#000" stroke="#000" stroke-width="0.27" >-0.3</text>
<g fill="none" stroke="#c2c2c2" stroke-width="0.45"><polyline points="536.9,123.9 553.5,133.9 570.2,91.0"/><polyline points="536.9,103.7 553.5,100.4 570.2,93.6"/><polyline points="536.9,135.9 553.5,106.6 570.2,80.0"/><polyline points="536.9,118.6 553.5,108.1 570.2,104.5"/><polyline points="536.9,124.5 553.5,130.7 570.2,123.5"/><polyline points="536.9,115.4 553.5,118.4 570.2,97.2"/><polyline points="536.9,110.1 553.5,97.0 570.2,102.3"/><polyline points="536.9,104.0 553.5,104.4 570.2,127.2"/><polyline points="536.9,125.2 553.5,109.0 570.2,137.4"/><polyline points="536.9,104.5 553.5,118.5 570.2,118.9"/><polyline points="536.9,116.6 553.5,127.9 570.2,86.9"/><polyline points="536.9,138.1 553.5,125.0 570.2,126.5"/><polyline points="536.9,129.9 553.5,127.9 570.2,120.5"/><polyline points="536.9,110.0 553.5,104.1 570.2,82.5"/><polyline points="536.9,121.9 553.5,121.5 570.2,92.5"/><polyline points="536.9,127.4 553.5,123.5 570.2,115.4"/><polyline points="536.9,117.6 553.5,134.5 570.2,108.0"/><polyline points="536.9,113.9 553.5,121.7 570.2,111.8"/><polyline points="536.9,111.9 553.5,118.6 570.2,127.9"/><polyline points="536.9,109.4 553.5,93.4 570.2,96.8"/><polyline points="536.9,121.7 553.5,72.6 570.2,74.5"/><polyline points="536.9,112.6 553.5,117.5 570.2,133.7"/><polyline points="536.9,114.3 553.5,105.6 570.2,77.5"/><polyline points="536.9,133.7 553.5,128.1 570.2,117.9"/><polyline points="536.9,113.2 553.5,117.1 570.2,110.5"/><polyline points="536.9,96.4 553.5,144.0 570.2,132.8"/><polyline points="536.9,106.2 553.5,103.7 570.2,94.7"/></g>
<g fill="#a0a0a0" fill-opacity="0.7"><circle cx="536.9" cy="123.9" r="1.95"/><circle cx="536.9" cy="103.7" r="1.95"/><circle cx="536.9" cy="135.9" r="1.95"/><circle cx="536.9" cy="118.6" r="1.95"/><circle cx="536.9" cy="124.5" r="1.95"/><circle cx="536.9" cy="115.4" r="1.95"/><circle cx="536.9" cy="110.1" r="1.95"/><circle cx="536.9" cy="104.0" r="1.95"/><circle cx="536.9" cy="125.2" r="1.95"/><circle cx="536.9" cy="104.5" r="1.95"/><circle cx="536.9" cy="116.6" r="1.95"/><circle cx="536.9" cy="138.1" r="1.95"/><circle cx="536.9" cy="129.9" r="1.95"/><circle cx="536.9" cy="110.0" r="1.95"/><circle cx="536.9" cy="121.9" r="1.95"/><circle cx="536.9" cy="127.4" r="1.95"/><circle cx="536.9" cy="117.6" r="1.95"/><circle cx="536.9" cy="113.9" r="1.95"/><circle cx="536.9" cy="111.9" r="1.95"/><circle cx="536.9" cy="109.4" r="1.95"/><circle cx="536.9" cy="121.7" r="1.95"/><circle cx="536.9" cy="112.6" r="1.95"/><circle cx="536.9" cy="114.3" r="1.95"/><circle cx="536.9" cy="133.7" r="1.95"/><circle cx="536.9" cy="113.2" r="1.95"/><circle cx="536.9" cy="96.4" r="1.95"/><circle cx="536.9" cy="106.2" r="1.95"/></g>
<g fill="#a0a0a0" fill-opacity="0.7"><circle cx="553.5" cy="133.9" r="1.95"/><circle cx="553.5" cy="100.4" r="1.95"/><circle cx="553.5" cy="106.6" r="1.95"/><circle cx="553.5" cy="108.1" r="1.95"/><circle cx="553.5" cy="130.7" r="1.95"/><circle cx="553.5" cy="118.4" r="1.95"/><circle cx="553.5" cy="97.0" r="1.95"/><circle cx="553.5" cy="104.4" r="1.95"/><circle cx="553.5" cy="109.0" r="1.95"/><circle cx="553.5" cy="118.5" r="1.95"/><circle cx="553.5" cy="127.9" r="1.95"/><circle cx="553.5" cy="125.0" r="1.95"/><circle cx="553.5" cy="127.9" r="1.95"/><circle cx="553.5" cy="104.1" r="1.95"/><circle cx="553.5" cy="121.5" r="1.95"/><circle cx="553.5" cy="123.5" r="1.95"/><circle cx="553.5" cy="134.5" r="1.95"/><circle cx="553.5" cy="121.7" r="1.95"/><circle cx="553.5" cy="118.6" r="1.95"/><circle cx="553.5" cy="93.4" r="1.95"/><circle cx="553.5" cy="72.6" r="1.95"/><circle cx="553.5" cy="117.5" r="1.95"/><circle cx="553.5" cy="105.6" r="1.95"/><circle cx="553.5" cy="128.1" r="1.95"/><circle cx="553.5" cy="117.1" r="1.95"/><circle cx="553.5" cy="144.0" r="1.95"/><circle cx="553.5" cy="103.7" r="1.95"/></g>
<g fill="#c9c43a" fill-opacity="0.7"><circle cx="570.2" cy="91.0" r="1.95"/><circle cx="570.2" cy="93.6" r="1.95"/><circle cx="570.2" cy="80.0" r="1.95"/><circle cx="570.2" cy="104.5" r="1.95"/><circle cx="570.2" cy="123.5" r="1.95"/><circle cx="570.2" cy="97.2" r="1.95"/><circle cx="570.2" cy="102.3" r="1.95"/><circle cx="570.2" cy="127.2" r="1.95"/><circle cx="570.2" cy="137.4" r="1.95"/><circle cx="570.2" cy="118.9" r="1.95"/><circle cx="570.2" cy="86.9" r="1.95"/><circle cx="570.2" cy="126.5" r="1.95"/><circle cx="570.2" cy="120.5" r="1.95"/><circle cx="570.2" cy="82.5" r="1.95"/><circle cx="570.2" cy="92.5" r="1.95"/><circle cx="570.2" cy="115.4" r="1.95"/><circle cx="570.2" cy="108.0" r="1.95"/><circle cx="570.2" cy="111.8" r="1.95"/><circle cx="570.2" cy="127.9" r="1.95"/><circle cx="570.2" cy="96.8" r="1.95"/><circle cx="570.2" cy="74.5" r="1.95"/><circle cx="570.2" cy="133.7" r="1.95"/><circle cx="570.2" cy="77.5" r="1.95"/><circle cx="570.2" cy="117.9" r="1.95"/><circle cx="570.2" cy="110.5" r="1.95"/><circle cx="570.2" cy="132.8" r="1.95"/><circle cx="570.2" cy="94.7" r="1.95"/></g>
<ellipse cx="536.9" cy="123.2" rx="2.6" ry="2.0" fill="#fff" fill-opacity="0.7" stroke="#a0a0a0" stroke-width="1.25"/>
<ellipse cx="553.5" cy="116.9" rx="2.6" ry="2.0" fill="#fff" fill-opacity="0.7" stroke="#a0a0a0" stroke-width="1.25"/>
<ellipse cx="570.2" cy="107.4" rx="2.6" ry="2.0" fill="#fff" fill-opacity="0.7" stroke="#c9c43a" stroke-width="1.25"/>
<path d="M537.4,34.8V33.6H570.9V34.8" fill="none" stroke="#2a2a2a" stroke-width="0.85"/>
<text transform="translate(554.15,33.50) scale(1,1.04)" font-size="7" text-anchor="middle" fill="#000" stroke="#000" stroke-width="0.3" >***</text>
<path d="M554.0,42.1V40.9H570.9V42.1" fill="none" stroke="#2a2a2a" stroke-width="0.85"/>
<text transform="translate(562.45,41.80) scale(1,1.04)" font-size="7" text-anchor="middle" fill="#000" stroke="#000" stroke-width="0.3" >*</text>
<circle cx="207.0" cy="159.6" r="1.8" fill="url(#gd)"/>
<circle cx="212.8" cy="159.6" r="1.8" fill="#2a86d6"/>
<circle cx="207.0" cy="163.9" r="1.8" fill="url(#gd)"/>
<circle cx="212.8" cy="163.9" r="1.8" fill="url(#gd)"/>
<circle cx="207.0" cy="168.2" r="1.8" fill="url(#gd)"/>
<circle cx="212.8" cy="168.2" r="1.8" fill="url(#gd)"/>
<circle cx="223.4" cy="159.6" r="1.8" fill="url(#gd)"/>
<circle cx="229.1" cy="159.6" r="1.8" fill="url(#gd)"/>
<circle cx="223.4" cy="163.9" r="1.8" fill="url(#gd)"/>
<circle cx="229.1" cy="163.9" r="1.8" fill="url(#gk)"/>
<circle cx="223.4" cy="168.2" r="1.8" fill="url(#gd)"/>
<circle cx="229.1" cy="168.2" r="1.8" fill="url(#gd)"/>
<circle cx="240.0" cy="159.6" r="1.8" fill="url(#gd)"/>
<circle cx="245.8" cy="159.6" r="1.8" fill="url(#gd)"/>
<circle cx="240.0" cy="163.9" r="1.8" fill="url(#gd)"/>
<circle cx="245.8" cy="163.9" r="1.8" fill="url(#gd)"/>
<circle cx="240.0" cy="168.2" r="1.8" fill="url(#gd)"/>
<circle cx="245.8" cy="168.2" r="1.8" fill="url(#gk)"/>
<circle cx="272.0" cy="159.6" r="1.8" fill="url(#gd)"/>
<circle cx="277.8" cy="159.6" r="1.8" fill="#2a86d6"/>
<circle cx="272.0" cy="163.9" r="1.8" fill="url(#gd)"/>
<circle cx="277.8" cy="163.9" r="1.8" fill="url(#gd)"/>
<circle cx="272.0" cy="168.2" r="1.8" fill="url(#gd)"/>
<circle cx="277.8" cy="168.2" r="1.8" fill="url(#gd)"/>
<circle cx="288.9" cy="159.6" r="1.8" fill="url(#gd)"/>
<circle cx="294.6" cy="159.6" r="1.8" fill="url(#gd)"/>
<circle cx="288.9" cy="163.9" r="1.8" fill="url(#gd)"/>
<circle cx="294.6" cy="163.9" r="1.8" fill="url(#gk)"/>
<circle cx="288.9" cy="168.2" r="1.8" fill="url(#gd)"/>
<circle cx="294.6" cy="168.2" r="1.8" fill="url(#gd)"/>
<circle cx="305.6" cy="159.6" r="1.8" fill="url(#gd)"/>
<circle cx="311.3" cy="159.6" r="1.8" fill="url(#gd)"/>
<circle cx="305.6" cy="163.9" r="1.8" fill="url(#gd)"/>
<circle cx="311.3" cy="163.9" r="1.8" fill="url(#gd)"/>
<circle cx="305.6" cy="168.2" r="1.8" fill="url(#gd)"/>
<circle cx="311.3" cy="168.2" r="1.8" fill="url(#gk)"/>
<circle cx="337.7" cy="159.6" r="1.8" fill="url(#gd)"/>
<circle cx="343.4" cy="159.6" r="1.8" fill="url(#gk)"/>
<circle cx="337.7" cy="163.9" r="1.8" fill="url(#gd)"/>
<circle cx="343.4" cy="163.9" r="1.8" fill="url(#gd)"/>
<circle cx="337.7" cy="168.2" r="1.8" fill="url(#gd)"/>
<circle cx="343.4" cy="168.2" r="1.8" fill="url(#gd)"/>
<circle cx="354.2" cy="159.6" r="1.8" fill="url(#gd)"/>
<circle cx="359.9" cy="159.6" r="1.8" fill="url(#gd)"/>
<circle cx="354.2" cy="163.9" r="1.8" fill="url(#gd)"/>
<circle cx="359.9" cy="163.9" r="1.8" fill="url(#gk)"/>
<circle cx="354.2" cy="168.2" r="1.8" fill="url(#gd)"/>
<circle cx="359.9" cy="168.2" r="1.8" fill="url(#gd)"/>
<circle cx="370.9" cy="159.6" r="1.8" fill="url(#gd)"/>
<circle cx="376.6" cy="159.6" r="1.8" fill="url(#gd)"/>
<circle cx="370.9" cy="163.9" r="1.8" fill="url(#gd)"/>
<circle cx="376.6" cy="163.9" r="1.8" fill="url(#gd)"/>
<circle cx="370.9" cy="168.2" r="1.8" fill="url(#gd)"/>
<circle cx="376.6" cy="168.2" r="1.8" fill="#3cbde0"/>
<circle cx="402.9" cy="159.6" r="1.8" fill="url(#gd)"/>
<circle cx="408.6" cy="159.6" r="1.8" fill="url(#gk)"/>
<circle cx="402.9" cy="163.9" r="1.8" fill="url(#gd)"/>
<circle cx="408.6" cy="163.9" r="1.8" fill="url(#gd)"/>
<circle cx="402.9" cy="168.2" r="1.8" fill="url(#gd)"/>
<circle cx="408.6" cy="168.2" r="1.8" fill="url(#gd)"/>
<circle cx="419.6" cy="159.6" r="1.8" fill="url(#gd)"/>
<circle cx="425.3" cy="159.6" r="1.8" fill="url(#gd)"/>
<circle cx="419.6" cy="163.9" r="1.8" fill="url(#gd)"/>
<circle cx="425.3" cy="163.9" r="1.8" fill="url(#gk)"/>
<circle cx="419.6" cy="168.2" r="1.8" fill="url(#gd)"/>
<circle cx="425.3" cy="168.2" r="1.8" fill="url(#gd)"/>
<circle cx="436.2" cy="159.6" r="1.8" fill="url(#gd)"/>
<circle cx="441.9" cy="159.6" r="1.8" fill="url(#gd)"/>
<circle cx="436.2" cy="163.9" r="1.8" fill="url(#gd)"/>
<circle cx="441.9" cy="163.9" r="1.8" fill="url(#gd)"/>
<circle cx="436.2" cy="168.2" r="1.8" fill="url(#gd)"/>
<circle cx="441.9" cy="168.2" r="1.8" fill="#5cb85c"/>
<circle cx="468.6" cy="159.6" r="1.8" fill="url(#gd)"/>
<circle cx="474.3" cy="159.6" r="1.8" fill="url(#gk)"/>
<circle cx="468.6" cy="163.9" r="1.8" fill="url(#gd)"/>
<circle cx="474.3" cy="163.9" r="1.8" fill="url(#gd)"/>
<circle cx="468.6" cy="168.2" r="1.8" fill="url(#gd)"/>
<circle cx="474.3" cy="168.2" r="1.8" fill="url(#gd)"/>
<circle cx="485.4" cy="159.6" r="1.8" fill="url(#gd)"/>
<circle cx="491.1" cy="159.6" r="1.8" fill="url(#gd)"/>
<circle cx="485.4" cy="163.9" r="1.8" fill="url(#gd)"/>
<circle cx="491.1" cy="163.9" r="1.8" fill="url(#gk)"/>
<circle cx="485.4" cy="168.2" r="1.8" fill="url(#gd)"/>
<circle cx="491.1" cy="168.2" r="1.8" fill="url(#gd)"/>
<circle cx="501.8" cy="159.6" r="1.8" fill="url(#gd)"/>
<circle cx="507.6" cy="159.6" r="1.8" fill="url(#gd)"/>
<circle cx="501.8" cy="163.9" r="1.8" fill="url(#gd)"/>
<circle cx="507.6" cy="163.9" r="1.8" fill="url(#gd)"/>
<circle cx="501.8" cy="168.2" r="1.8" fill="url(#gd)"/>
<circle cx="507.6" cy="168.2" r="1.8" fill="#5cb85c"/>
<circle cx="534.1" cy="159.6" r="1.8" fill="url(#gd)"/>
<circle cx="539.9" cy="159.6" r="1.8" fill="url(#gk)"/>
<circle cx="534.1" cy="163.9" r="1.8" fill="url(#gd)"/>
<circle cx="539.9" cy="163.9" r="1.8" fill="url(#gd)"/>
<circle cx="534.1" cy="168.2" r="1.8" fill="url(#gd)"/>
<circle cx="539.9" cy="168.2" r="1.8" fill="url(#gd)"/>
<circle cx="550.7" cy="159.6" r="1.8" fill="url(#gd)"/>
<circle cx="556.5" cy="159.6" r="1.8" fill="url(#gd)"/>
<circle cx="550.7" cy="163.9" r="1.8" fill="url(#gd)"/>
<circle cx="556.5" cy="163.9" r="1.8" fill="url(#gk)"/>
<circle cx="550.7" cy="168.2" r="1.8" fill="url(#gd)"/>
<circle cx="556.5" cy="168.2" r="1.8" fill="url(#gd)"/>
<circle cx="567.4" cy="159.6" r="1.8" fill="url(#gd)"/>
<circle cx="573.2" cy="159.6" r="1.8" fill="url(#gd)"/>
<circle cx="567.4" cy="163.9" r="1.8" fill="url(#gd)"/>
<circle cx="573.2" cy="163.9" r="1.8" fill="url(#gd)"/>
<circle cx="567.4" cy="168.2" r="1.8" fill="url(#gd)"/>
<circle cx="573.2" cy="168.2" r="1.8" fill="#5cb85c"/>
<text transform="translate(225.50,183.00) scale(1,1.04)" font-size="8.7" text-anchor="middle" fill="#4572c0" stroke="#4572c0" stroke-width="0.15" >RF</text>
<text transform="translate(291.20,183.00) scale(1,1.04)" font-size="8.7" text-anchor="middle" fill="#86c5ee" stroke="#86c5ee" stroke-width="0.15" >VL</text>
<text transform="translate(356.50,183.00) scale(1,1.04)" font-size="8.7" text-anchor="middle" fill="#3cbde0" stroke="#3cbde0" stroke-width="0.15" >ST</text>
<text transform="translate(422.80,183.00) scale(1,1.04)" font-size="8.7" text-anchor="middle" fill="#2db596" stroke="#2db596" stroke-width="0.15" >TA</text>
<text transform="translate(488.10,183.00) scale(1,1.04)" font-size="8.7" text-anchor="middle" fill="#2090a2" stroke="#2090a2" stroke-width="0.15" >MG</text>
<text transform="translate(554.10,183.00) scale(1,1.04)" font-size="8.7" text-anchor="middle" fill="#c9c43a" stroke="#c9c43a" stroke-width="0.15" >SL</text>
<text x="0.00" y="0.00" font-size="9.4" text-anchor="middle" fill="#000" stroke="#000" stroke-width="0.27" transform="translate(181.2,98.6) rotate(-90)">Selectivity index (a.u.)</text>
<line x1="258.40" y1="228.20" x2="258.40" y2="333.50" stroke="#000" stroke-width="1.15" />
<line x1="256.40" y1="228.60" x2="258.40" y2="228.60" stroke="#000" stroke-width="0.9" />
<line x1="256.40" y1="249.50" x2="258.40" y2="249.50" stroke="#000" stroke-width="0.9" />
<line x1="256.40" y1="270.40" x2="258.40" y2="270.40" stroke="#000" stroke-width="0.9" />
<line x1="256.40" y1="291.30" x2="258.40" y2="291.30" stroke="#000" stroke-width="0.9" />
<line x1="256.40" y1="312.20" x2="258.40" y2="312.20" stroke="#000" stroke-width="0.9" />
<line x1="256.40" y1="333.10" x2="258.40" y2="333.10" stroke="#000" stroke-width="0.9" />
<text transform="translate(255.20,230.40) scale(1,1.04)" font-size="7.0" text-anchor="end" fill="#000" stroke="#000" stroke-width="0.27" >0.6</text>
<text transform="translate(255.20,293.10) scale(1,1.04)" font-size="7.0" text-anchor="end" fill="#000" stroke="#000" stroke-width="0.27" >0</text>
<text transform="translate(255.20,334.90) scale(1,1.04)" font-size="7.0" text-anchor="end" fill="#000" stroke="#000" stroke-width="0.27" >-0.4</text>
<g fill="none" stroke="#c2c2c2" stroke-width="0.45"><polyline points="264.8,288.9 294.0,292.4"/><polyline points="264.8,278.3 294.0,285.1"/><polyline points="264.8,305.6 294.0,284.4"/><polyline points="264.8,300.4 294.0,300.7"/><polyline points="264.8,270.2 294.0,298.2"/><polyline points="264.8,293.0 294.0,276.9"/><polyline points="264.8,291.4 294.0,290.9"/><polyline points="264.8,285.8 294.0,253.8"/><polyline points="264.8,273.5 294.0,255.8"/><polyline points="264.8,299.3 294.0,276.7"/><polyline points="264.8,296.7 294.0,269.2"/><polyline points="264.8,284.5 294.0,289.6"/><polyline points="264.8,302.9 294.0,292.4"/><polyline points="264.8,286.4 294.0,262.5"/><polyline points="264.8,299.2 294.0,277.8"/><polyline points="264.8,305.3 294.0,295.7"/><polyline points="264.8,291.8 294.0,291.9"/><polyline points="264.8,283.7 294.0,268.6"/><polyline points="264.8,302.1 294.0,269.8"/><polyline points="264.8,284.5 294.0,278.4"/><polyline points="264.8,277.6 294.0,284.9"/><polyline points="264.8,250.0 294.0,231.1"/><polyline points="264.8,282.4 294.0,264.5"/><polyline points="264.8,280.9 294.0,277.2"/><polyline points="264.8,304.3 294.0,282.0"/><polyline points="264.8,259.9 294.0,257.9"/></g>
<g fill="#a0a0a0" fill-opacity="0.7"><circle cx="264.8" cy="288.9" r="1.95"/><circle cx="264.8" cy="278.3" r="1.95"/><circle cx="264.8" cy="305.6" r="1.95"/><circle cx="264.8" cy="300.4" r="1.95"/><circle cx="264.8" cy="270.2" r="1.95"/><circle cx="264.8" cy="293.0" r="1.95"/><circle cx="264.8" cy="291.4" r="1.95"/><circle cx="264.8" cy="285.8" r="1.95"/><circle cx="264.8" cy="273.5" r="1.95"/><circle cx="264.8" cy="299.3" r="1.95"/><circle cx="264.8" cy="296.7" r="1.95"/><circle cx="264.8" cy="284.5" r="1.95"/><circle cx="264.8" cy="302.9" r="1.95"/><circle cx="264.8" cy="286.4" r="1.95"/><circle cx="264.8" cy="299.2" r="1.95"/><circle cx="264.8" cy="305.3" r="1.95"/><circle cx="264.8" cy="291.8" r="1.95"/><circle cx="264.8" cy="283.7" r="1.95"/><circle cx="264.8" cy="302.1" r="1.95"/><circle cx="264.8" cy="284.5" r="1.95"/><circle cx="264.8" cy="277.6" r="1.95"/><circle cx="264.8" cy="250.0" r="1.95"/><circle cx="264.8" cy="282.4" r="1.95"/><circle cx="264.8" cy="280.9" r="1.95"/><circle cx="264.8" cy="304.3" r="1.95"/><circle cx="264.8" cy="259.9" r="1.95"/></g>
<g fill="#4572c0" fill-opacity="0.7"><circle cx="294.0" cy="292.4" r="1.95"/><circle cx="294.0" cy="285.1" r="1.95"/><circle cx="294.0" cy="284.4" r="1.95"/><circle cx="294.0" cy="300.7" r="1.95"/><circle cx="294.0" cy="298.2" r="1.95"/><circle cx="294.0" cy="276.9" r="1.95"/><circle cx="294.0" cy="290.9" r="1.95"/><circle cx="294.0" cy="253.8" r="1.95"/><circle cx="294.0" cy="255.8" r="1.95"/><circle cx="294.0" cy="276.7" r="1.95"/><circle cx="294.0" cy="269.2" r="1.95"/><circle cx="294.0" cy="289.6" r="1.95"/><circle cx="294.0" cy="292.4" r="1.95"/><circle cx="294.0" cy="262.5" r="1.95"/><circle cx="294.0" cy="277.8" r="1.95"/><circle cx="294.0" cy="295.7" r="1.95"/><circle cx="294.0" cy="291.9" r="1.95"/><circle cx="294.0" cy="268.6" r="1.95"/><circle cx="294.0" cy="269.8" r="1.95"/><circle cx="294.0" cy="278.4" r="1.95"/><circle cx="294.0" cy="284.9" r="1.95"/><circle cx="294.0" cy="231.1" r="1.95"/><circle cx="294.0" cy="264.5" r="1.95"/><circle cx="294.0" cy="277.2" r="1.95"/><circle cx="294.0" cy="282.0" r="1.95"/><circle cx="294.0" cy="257.9" r="1.95"/></g>
<ellipse cx="264.8" cy="287.2" rx="2.9" ry="2.1" fill="#fff" fill-opacity="0.7" stroke="#a0a0a0" stroke-width="1.25"/>
<ellipse cx="294.0" cy="278.6" rx="2.9" ry="2.1" fill="#fff" fill-opacity="0.7" stroke="#4572c0" stroke-width="1.25"/>
<path d="M265.3,225.7V224.5H294.7V225.7" fill="none" stroke="#2a2a2a" stroke-width="0.85"/>
<text transform="translate(280.00,223.90) scale(1,1.04)" font-size="7" text-anchor="middle" fill="#000" stroke="#000" stroke-width="0.3" >**</text>
<line x1="315.50" y1="228.20" x2="315.50" y2="333.50" stroke="#000" stroke-width="1.15" />
<line x1="313.50" y1="228.60" x2="315.50" y2="228.60" stroke="#000" stroke-width="0.9" />
<line x1="313.50" y1="249.50" x2="315.50" y2="249.50" stroke="#000" stroke-width="0.9" />
<line x1="313.50" y1="270.40" x2="315.50" y2="270.40" stroke="#000" stroke-width="0.9" />
<line x1="313.50" y1="291.30" x2="315.50" y2="291.30" stroke="#000" stroke-width="0.9" />
<line x1="313.50" y1="312.20" x2="315.50" y2="312.20" stroke="#000" stroke-width="0.9" />
<line x1="313.50" y1="333.10" x2="315.50" y2="333.10" stroke="#000" stroke-width="0.9" />
<text transform="translate(312.30,230.40) scale(1,1.04)" font-size="7.0" text-anchor="end" fill="#000" stroke="#000" stroke-width="0.27" >0.6</text>
<text transform="translate(312.30,293.10) scale(1,1.04)" font-size="7.0" text-anchor="end" fill="#000" stroke="#000" stroke-width="0.27" >0</text>
<text transform="translate(312.30,334.90) scale(1,1.04)" font-size="7.0" text-anchor="end" fill="#000" stroke="#000" stroke-width="0.27" >-0.4</text>
<g fill="none" stroke="#c2c2c2" stroke-width="0.45"><polyline points="321.3,280.9 350.3,300.9"/><polyline points="321.3,278.9 350.3,254.3"/><polyline points="321.3,283.8 350.3,258.8"/><polyline points="321.3,300.3 350.3,279.9"/><polyline points="321.3,301.6 350.3,265.2"/><polyline points="321.3,265.2 350.3,293.1"/><polyline points="321.3,301.8 350.3,293.6"/><polyline points="321.3,280.4 350.3,273.4"/><polyline points="321.3,297.1 350.3,290.1"/><polyline points="321.3,296.3 350.3,284.4"/><polyline points="321.3,319.1 350.3,296.6"/><polyline points="321.3,299.4 350.3,296.2"/><polyline points="321.3,280.6 350.3,268.6"/><polyline points="321.3,283.4 350.3,256.6"/><polyline points="321.3,314.6 350.3,284.6"/><polyline points="321.3,282.4 350.3,286.1"/><polyline points="321.3,286.7 350.3,289.5"/><polyline points="321.3,299.3 350.3,293.4"/><polyline points="321.3,286.4 350.3,278.9"/><polyline points="321.3,302.7 350.3,283.1"/><polyline points="321.3,298.0 350.3,298.6"/><polyline points="321.3,261.2 350.3,241.8"/><polyline points="321.3,290.8 350.3,300.4"/><polyline points="321.3,297.1 350.3,280.3"/><polyline points="321.3,279.7 350.3,270.3"/><polyline points="321.3,275.3 350.3,273.2"/></g>
<g fill="#a0a0a0" fill-opacity="0.7"><circle cx="321.3" cy="280.9" r="1.95"/><circle cx="321.3" cy="278.9" r="1.95"/><circle cx="321.3" cy="283.8" r="1.95"/><circle cx="321.3" cy="300.3" r="1.95"/><circle cx="321.3" cy="301.6" r="1.95"/><circle cx="321.3" cy="265.2" r="1.95"/><circle cx="321.3" cy="301.8" r="1.95"/><circle cx="321.3" cy="280.4" r="1.95"/><circle cx="321.3" cy="297.1" r="1.95"/><circle cx="321.3" cy="296.3" r="1.95"/><circle cx="321.3" cy="319.1" r="1.95"/><circle cx="321.3" cy="299.4" r="1.95"/><circle cx="321.3" cy="280.6" r="1.95"/><circle cx="321.3" cy="283.4" r="1.95"/><circle cx="321.3" cy="314.6" r="1.95"/><circle cx="321.3" cy="282.4" r="1.95"/><circle cx="321.3" cy="286.7" r="1.95"/><circle cx="321.3" cy="299.3" r="1.95"/><circle cx="321.3" cy="286.4" r="1.95"/><circle cx="321.3" cy="302.7" r="1.95"/><circle cx="321.3" cy="298.0" r="1.95"/><circle cx="321.3" cy="261.2" r="1.95"/><circle cx="321.3" cy="290.8" r="1.95"/><circle cx="321.3" cy="297.1" r="1.95"/><circle cx="321.3" cy="279.7" r="1.95"/><circle cx="321.3" cy="275.3" r="1.95"/></g>
<g fill="#86c5ee" fill-opacity="0.7"><circle cx="350.3" cy="300.9" r="1.95"/><circle cx="350.3" cy="254.3" r="1.95"/><circle cx="350.3" cy="258.8" r="1.95"/><circle cx="350.3" cy="279.9" r="1.95"/><circle cx="350.3" cy="265.2" r="1.95"/><circle cx="350.3" cy="293.1" r="1.95"/><circle cx="350.3" cy="293.6" r="1.95"/><circle cx="350.3" cy="273.4" r="1.95"/><circle cx="350.3" cy="290.1" r="1.95"/><circle cx="350.3" cy="284.4" r="1.95"/><circle cx="350.3" cy="296.6" r="1.95"/><circle cx="350.3" cy="296.2" r="1.95"/><circle cx="350.3" cy="268.6" r="1.95"/><circle cx="350.3" cy="256.6" r="1.95"/><circle cx="350.3" cy="284.6" r="1.95"/><circle cx="350.3" cy="286.1" r="1.95"/><circle cx="350.3" cy="289.5" r="1.95"/><circle cx="350.3" cy="293.4" r="1.95"/><circle cx="350.3" cy="278.9" r="1.95"/><circle cx="350.3" cy="283.1" r="1.95"/><circle cx="350.3" cy="298.6" r="1.95"/><circle cx="350.3" cy="241.8" r="1.95"/><circle cx="350.3" cy="300.4" r="1.95"/><circle cx="350.3" cy="280.3" r="1.95"/><circle cx="350.3" cy="270.3" r="1.95"/><circle cx="350.3" cy="273.2" r="1.95"/></g>
<ellipse cx="321.3" cy="293.0" rx="2.9" ry="2.1" fill="#fff" fill-opacity="0.7" stroke="#a0a0a0" stroke-width="1.25"/>
<ellipse cx="350.3" cy="285.3" rx="2.9" ry="2.1" fill="#fff" fill-opacity="0.7" stroke="#86c5ee" stroke-width="1.25"/>
<path d="M321.8,225.7V224.5H351.0V225.7" fill="none" stroke="#2a2a2a" stroke-width="0.85"/>
<text transform="translate(336.40,223.90) scale(1,1.04)" font-size="7" text-anchor="middle" fill="#000" stroke="#000" stroke-width="0.3" >***</text>
<line x1="371.40" y1="228.20" x2="371.40" y2="333.50" stroke="#000" stroke-width="1.15" />
<line x1="369.40" y1="228.60" x2="371.40" y2="228.60" stroke="#000" stroke-width="0.9" />
<line x1="369.40" y1="249.50" x2="371.40" y2="249.50" stroke="#000" stroke-width="0.9" />
<line x1="369.40" y1="270.40" x2="371.40" y2="270.40" stroke="#000" stroke-width="0.9" />
<line x1="369.40" y1="291.30" x2="371.40" y2="291.30" stroke="#000" stroke-width="0.9" />
<line x1="369.40" y1="312.20" x2="371.40" y2="312.20" stroke="#000" stroke-width="0.9" />
<line x1="369.40" y1="333.10" x2="371.40" y2="333.10" stroke="#000" stroke-width="0.9" />
<text transform="translate(368.20,230.40) scale(1,1.04)" font-size="7.0" text-anchor="end" fill="#000" stroke="#000" stroke-width="0.27" >0.6</text>
<text transform="translate(368.20,293.10) scale(1,1.04)" font-size="7.0" text-anchor="end" fill="#000" stroke="#000" stroke-width="0.27" >0</text>
<text transform="translate(368.20,334.90) scale(1,1.04)" font-size="7.0" text-anchor="end" fill="#000" stroke="#000" stroke-width="0.27" >-0.4</text>
<g fill="none" stroke="#c2c2c2" stroke-width="0.45"><polyline points="377.8,308.2 407.4,299.3"/><polyline points="377.8,272.2 407.4,281.1"/><polyline points="377.8,298.8 407.4,297.1"/><polyline points="377.8,299.7 407.4,277.9"/><polyline points="377.8,278.8 407.4,277.0"/><polyline points="377.8,310.4 407.4,275.8"/><polyline points="377.8,299.6 407.4,306.7"/><polyline points="377.8,308.3 407.4,290.5"/><polyline points="377.8,273.4 407.4,283.3"/><polyline points="377.8,282.5 407.4,281.2"/><polyline points="377.8,290.7 407.4,269.9"/><polyline points="377.8,265.7 407.4,310.9"/><polyline points="377.8,303.5 407.4,299.8"/><polyline points="377.8,292.7 407.4,284.8"/><polyline points="377.8,285.9 407.4,285.4"/><polyline points="377.8,292.0 407.4,291.5"/><polyline points="377.8,272.9 407.4,299.0"/><polyline points="377.8,310.9 407.4,297.6"/><polyline points="377.8,297.1 407.4,308.8"/><polyline points="377.8,281.9 407.4,298.0"/><polyline points="377.8,305.8 407.4,291.8"/><polyline points="377.8,300.5 407.4,286.8"/><polyline points="377.8,296.7 407.4,302.5"/><polyline points="377.8,308.0 407.4,295.6"/></g>
<g fill="#a0a0a0" fill-opacity="0.7"><circle cx="377.8" cy="308.2" r="1.95"/><circle cx="377.8" cy="272.2" r="1.95"/><circle cx="377.8" cy="298.8" r="1.95"/><circle cx="377.8" cy="299.7" r="1.95"/><circle cx="377.8" cy="278.8" r="1.95"/><circle cx="377.8" cy="310.4" r="1.95"/><circle cx="377.8" cy="299.6" r="1.95"/><circle cx="377.8" cy="308.3" r="1.95"/><circle cx="377.8" cy="273.4" r="1.95"/><circle cx="377.8" cy="282.5" r="1.95"/><circle cx="377.8" cy="290.7" r="1.95"/><circle cx="377.8" cy="265.7" r="1.95"/><circle cx="377.8" cy="303.5" r="1.95"/><circle cx="377.8" cy="292.7" r="1.95"/><circle cx="377.8" cy="285.9" r="1.95"/><circle cx="377.8" cy="292.0" r="1.95"/><circle cx="377.8" cy="272.9" r="1.95"/><circle cx="377.8" cy="310.9" r="1.95"/><circle cx="377.8" cy="297.1" r="1.95"/><circle cx="377.8" cy="281.9" r="1.95"/><circle cx="377.8" cy="305.8" r="1.95"/><circle cx="377.8" cy="300.5" r="1.95"/><circle cx="377.8" cy="296.7" r="1.95"/><circle cx="377.8" cy="308.0" r="1.95"/></g>
<g fill="#3cbde0" fill-opacity="0.7"><circle cx="407.4" cy="299.3" r="1.95"/><circle cx="407.4" cy="281.1" r="1.95"/><circle cx="407.4" cy="297.1" r="1.95"/><circle cx="407.4" cy="277.9" r="1.95"/><circle cx="407.4" cy="277.0" r="1.95"/><circle cx="407.4" cy="275.8" r="1.95"/><circle cx="407.4" cy="306.7" r="1.95"/><circle cx="407.4" cy="290.5" r="1.95"/><circle cx="407.4" cy="283.3" r="1.95"/><circle cx="407.4" cy="281.2" r="1.95"/><circle cx="407.4" cy="269.9" r="1.95"/><circle cx="407.4" cy="310.9" r="1.95"/><circle cx="407.4" cy="299.8" r="1.95"/><circle cx="407.4" cy="284.8" r="1.95"/><circle cx="407.4" cy="285.4" r="1.95"/><circle cx="407.4" cy="291.5" r="1.95"/><circle cx="407.4" cy="299.0" r="1.95"/><circle cx="407.4" cy="297.6" r="1.95"/><circle cx="407.4" cy="308.8" r="1.95"/><circle cx="407.4" cy="298.0" r="1.95"/><circle cx="407.4" cy="291.8" r="1.95"/><circle cx="407.4" cy="286.8" r="1.95"/><circle cx="407.4" cy="302.5" r="1.95"/><circle cx="407.4" cy="295.6" r="1.95"/></g>
<ellipse cx="377.8" cy="294.2" rx="2.9" ry="2.1" fill="#fff" fill-opacity="0.7" stroke="#a0a0a0" stroke-width="1.25"/>
<ellipse cx="407.4" cy="290.4" rx="2.9" ry="2.1" fill="#fff" fill-opacity="0.7" stroke="#3cbde0" stroke-width="1.25"/>
<line x1="423.50" y1="228.20" x2="423.50" y2="333.50" stroke="#000" stroke-width="1.15" />
<line x1="421.50" y1="228.60" x2="423.50" y2="228.60" stroke="#000" stroke-width="0.9" />
<line x1="421.50" y1="249.50" x2="423.50" y2="249.50" stroke="#000" stroke-width="0.9" />
<line x1="421.50" y1="270.40" x2="423.50" y2="270.40" stroke="#000" stroke-width="0.9" />
<line x1="421.50" y1="291.30" x2="423.50" y2="291.30" stroke="#000" stroke-width="0.9" />
<line x1="421.50" y1="312.20" x2="423.50" y2="312.20" stroke="#000" stroke-width="0.9" />
<line x1="421.50" y1="333.10" x2="423.50" y2="333.10" stroke="#000" stroke-width="0.9" />
<text transform="translate(420.30,230.40) scale(1,1.04)" font-size="7.0" text-anchor="end" fill="#000" stroke="#000" stroke-width="0.27" >0.6</text>
<text transform="translate(420.30,293.10) scale(1,1.04)" font-size="7.0" text-anchor="end" fill="#000" stroke="#000" stroke-width="0.27" >0</text>
<text transform="translate(420.30,334.90) scale(1,1.04)" font-size="7.0" text-anchor="end" fill="#000" stroke="#000" stroke-width="0.27" >-0.4</text>
<g fill="none" stroke="#c2c2c2" stroke-width="0.45"><polyline points="430.2,302.3 464.5,283.2"/><polyline points="430.2,286.8 464.5,295.1"/><polyline points="430.2,288.5 464.5,259.5"/><polyline points="430.2,283.6 464.5,270.3"/><polyline points="430.2,291.4 464.5,267.3"/><polyline points="430.2,288.3 464.5,256.0"/><polyline points="430.2,296.5 464.5,286.7"/><polyline points="430.2,285.8 464.5,282.4"/><polyline points="430.2,290.0 464.5,281.3"/><polyline points="430.2,309.2 464.5,291.5"/><polyline points="430.2,304.7 464.5,294.2"/><polyline points="430.2,290.7 464.5,270.8"/><polyline points="430.2,296.2 464.5,276.6"/><polyline points="430.2,296.8 464.5,296.1"/><polyline points="430.2,289.0 464.5,277.6"/><polyline points="430.2,285.6 464.5,282.0"/><polyline points="430.2,294.5 464.5,264.3"/><polyline points="430.2,293.4 464.5,295.2"/><polyline points="430.2,269.0 464.5,278.5"/><polyline points="430.2,295.8 464.5,298.7"/><polyline points="430.2,285.5 464.5,264.4"/><polyline points="430.2,287.5 464.5,271.1"/><polyline points="430.2,273.2 464.5,266.2"/><polyline points="430.2,281.5 464.5,271.4"/></g>
<g fill="#a0a0a0" fill-opacity="0.7"><circle cx="430.2" cy="302.3" r="1.95"/><circle cx="430.2" cy="286.8" r="1.95"/><circle cx="430.2" cy="288.5" r="1.95"/><circle cx="430.2" cy="283.6" r="1.95"/><circle cx="430.2" cy="291.4" r="1.95"/><circle cx="430.2" cy="288.3" r="1.95"/><circle cx="430.2" cy="296.5" r="1.95"/><circle cx="430.2" cy="285.8" r="1.95"/><circle cx="430.2" cy="290.0" r="1.95"/><circle cx="430.2" cy="309.2" r="1.95"/><circle cx="430.2" cy="304.7" r="1.95"/><circle cx="430.2" cy="290.7" r="1.95"/><circle cx="430.2" cy="296.2" r="1.95"/><circle cx="430.2" cy="296.8" r="1.95"/><circle cx="430.2" cy="289.0" r="1.95"/><circle cx="430.2" cy="285.6" r="1.95"/><circle cx="430.2" cy="294.5" r="1.95"/><circle cx="430.2" cy="293.4" r="1.95"/><circle cx="430.2" cy="269.0" r="1.95"/><circle cx="430.2" cy="295.8" r="1.95"/><circle cx="430.2" cy="285.5" r="1.95"/><circle cx="430.2" cy="287.5" r="1.95"/><circle cx="430.2" cy="273.2" r="1.95"/><circle cx="430.2" cy="281.5" r="1.95"/></g>
<g fill="#2db596" fill-opacity="0.7"><circle cx="464.5" cy="283.2" r="1.95"/><circle cx="464.5" cy="295.1" r="1.95"/><circle cx="464.5" cy="259.5" r="1.95"/><circle cx="464.5" cy="270.3" r="1.95"/><circle cx="464.5" cy="267.3" r="1.95"/><circle cx="464.5" cy="256.0" r="1.95"/><circle cx="464.5" cy="286.7" r="1.95"/><circle cx="464.5" cy="282.4" r="1.95"/><circle cx="464.5" cy="281.3" r="1.95"/><circle cx="464.5" cy="291.5" r="1.95"/><circle cx="464.5" cy="294.2" r="1.95"/><circle cx="464.5" cy="270.8" r="1.95"/><circle cx="464.5" cy="276.6" r="1.95"/><circle cx="464.5" cy="296.1" r="1.95"/><circle cx="464.5" cy="277.6" r="1.95"/><circle cx="464.5" cy="282.0" r="1.95"/><circle cx="464.5" cy="264.3" r="1.95"/><circle cx="464.5" cy="295.2" r="1.95"/><circle cx="464.5" cy="278.5" r="1.95"/><circle cx="464.5" cy="298.7" r="1.95"/><circle cx="464.5" cy="264.4" r="1.95"/><circle cx="464.5" cy="271.1" r="1.95"/><circle cx="464.5" cy="266.2" r="1.95"/><circle cx="464.5" cy="271.4" r="1.95"/></g>
<ellipse cx="430.2" cy="293.4" rx="2.9" ry="2.1" fill="#fff" fill-opacity="0.7" stroke="#a0a0a0" stroke-width="1.25"/>
<ellipse cx="464.5" cy="284.5" rx="2.9" ry="2.1" fill="#fff" fill-opacity="0.7" stroke="#2db596" stroke-width="1.25"/>
<path d="M430.7,225.7V224.5H465.2V225.7" fill="none" stroke="#2a2a2a" stroke-width="0.85"/>
<text transform="translate(447.95,223.90) scale(1,1.04)" font-size="7" text-anchor="middle" fill="#000" stroke="#000" stroke-width="0.3" >***</text>
<line x1="477.70" y1="228.20" x2="477.70" y2="333.50" stroke="#000" stroke-width="1.15" />
<line x1="475.70" y1="228.60" x2="477.70" y2="228.60" stroke="#000" stroke-width="0.9" />
<line x1="475.70" y1="249.50" x2="477.70" y2="249.50" stroke="#000" stroke-width="0.9" />
<line x1="475.70" y1="270.40" x2="477.70" y2="270.40" stroke="#000" stroke-width="0.9" />
<line x1="475.70" y1="291.30" x2="477.70" y2="291.30" stroke="#000" stroke-width="0.9" />
<line x1="475.70" y1="312.20" x2="477.70" y2="312.20" stroke="#000" stroke-width="0.9" />
<line x1="475.70" y1="333.10" x2="477.70" y2="333.10" stroke="#000" stroke-width="0.9" />
<text transform="translate(474.50,230.40) scale(1,1.04)" font-size="7.0" text-anchor="end" fill="#000" stroke="#000" stroke-width="0.27" >0.6</text>
<text transform="translate(474.50,293.10) scale(1,1.04)" font-size="7.0" text-anchor="end" fill="#000" stroke="#000" stroke-width="0.27" >0</text>
<text transform="translate(474.50,334.90) scale(1,1.04)" font-size="7.0" text-anchor="end" fill="#000" stroke="#000" stroke-width="0.27" >-0.4</text>
<g fill="none" stroke="#c2c2c2" stroke-width="0.45"><polyline points="483.8,302.8 513.0,305.4"/><polyline points="483.8,287.8 513.0,264.0"/><polyline points="483.8,245.7 513.0,262.2"/><polyline points="483.8,330.7 513.0,290.4"/><polyline points="483.8,281.4 513.0,288.9"/><polyline points="483.8,293.8 513.0,270.0"/><polyline points="483.8,287.5 513.0,285.5"/><polyline points="483.8,278.1 513.0,278.3"/><polyline points="483.8,304.6 513.0,297.2"/><polyline points="483.8,266.6 513.0,276.0"/><polyline points="483.8,279.3 513.0,265.1"/><polyline points="483.8,306.9 513.0,306.0"/><polyline points="483.8,307.7 513.0,302.7"/><polyline points="483.8,300.7 513.0,283.1"/><polyline points="483.8,298.4 513.0,288.4"/><polyline points="483.8,307.3 513.0,291.0"/><polyline points="483.8,299.5 513.0,285.1"/><polyline points="483.8,288.7 513.0,299.7"/><polyline points="483.8,295.7 513.0,289.9"/><polyline points="483.8,307.3 513.0,301.5"/><polyline points="483.8,305.5 513.0,277.2"/><polyline points="483.8,281.8 513.0,279.4"/><polyline points="483.8,276.5 513.0,288.0"/><polyline points="483.8,297.5 513.0,268.7"/></g>
<g fill="#a0a0a0" fill-opacity="0.7"><circle cx="483.8" cy="302.8" r="1.95"/><circle cx="483.8" cy="287.8" r="1.95"/><circle cx="483.8" cy="245.7" r="1.95"/><circle cx="483.8" cy="330.7" r="1.95"/><circle cx="483.8" cy="281.4" r="1.95"/><circle cx="483.8" cy="293.8" r="1.95"/><circle cx="483.8" cy="287.5" r="1.95"/><circle cx="483.8" cy="278.1" r="1.95"/><circle cx="483.8" cy="304.6" r="1.95"/><circle cx="483.8" cy="266.6" r="1.95"/><circle cx="483.8" cy="279.3" r="1.95"/><circle cx="483.8" cy="306.9" r="1.95"/><circle cx="483.8" cy="307.7" r="1.95"/><circle cx="483.8" cy="300.7" r="1.95"/><circle cx="483.8" cy="298.4" r="1.95"/><circle cx="483.8" cy="307.3" r="1.95"/><circle cx="483.8" cy="299.5" r="1.95"/><circle cx="483.8" cy="288.7" r="1.95"/><circle cx="483.8" cy="295.7" r="1.95"/><circle cx="483.8" cy="307.3" r="1.95"/><circle cx="483.8" cy="305.5" r="1.95"/><circle cx="483.8" cy="281.8" r="1.95"/><circle cx="483.8" cy="276.5" r="1.95"/><circle cx="483.8" cy="297.5" r="1.95"/></g>
<g fill="#2090a2" fill-opacity="0.7"><circle cx="513.0" cy="305.4" r="1.95"/><circle cx="513.0" cy="264.0" r="1.95"/><circle cx="513.0" cy="262.2" r="1.95"/><circle cx="513.0" cy="290.4" r="1.95"/><circle cx="513.0" cy="288.9" r="1.95"/><circle cx="513.0" cy="270.0" r="1.95"/><circle cx="513.0" cy="285.5" r="1.95"/><circle cx="513.0" cy="278.3" r="1.95"/><circle cx="513.0" cy="297.2" r="1.95"/><circle cx="513.0" cy="276.0" r="1.95"/><circle cx="513.0" cy="265.1" r="1.95"/><circle cx="513.0" cy="306.0" r="1.95"/><circle cx="513.0" cy="302.7" r="1.95"/><circle cx="513.0" cy="283.1" r="1.95"/><circle cx="513.0" cy="288.4" r="1.95"/><circle cx="513.0" cy="291.0" r="1.95"/><circle cx="513.0" cy="285.1" r="1.95"/><circle cx="513.0" cy="299.7" r="1.95"/><circle cx="513.0" cy="289.9" r="1.95"/><circle cx="513.0" cy="301.5" r="1.95"/><circle cx="513.0" cy="277.2" r="1.95"/><circle cx="513.0" cy="279.4" r="1.95"/><circle cx="513.0" cy="288.0" r="1.95"/><circle cx="513.0" cy="268.7" r="1.95"/></g>
<ellipse cx="483.8" cy="291.8" rx="2.9" ry="2.1" fill="#fff" fill-opacity="0.7" stroke="#a0a0a0" stroke-width="1.25"/>
<ellipse cx="513.0" cy="289.0" rx="2.9" ry="2.1" fill="#fff" fill-opacity="0.7" stroke="#2090a2" stroke-width="1.25"/>
<line x1="531.00" y1="228.20" x2="531.00" y2="333.50" stroke="#000" stroke-width="1.15" />
<line x1="529.00" y1="228.60" x2="531.00" y2="228.60" stroke="#000" stroke-width="0.9" />
<line x1="529.00" y1="249.50" x2="531.00" y2="249.50" stroke="#000" stroke-width="0.9" />
<line x1="529.00" y1="270.40" x2="531.00" y2="270.40" stroke="#000" stroke-width="0.9" />
<line x1="529.00" y1="291.30" x2="531.00" y2="291.30" stroke="#000" stroke-width="0.9" />
<line x1="529.00" y1="312.20" x2="531.00" y2="312.20" stroke="#000" stroke-width="0.9" />
<line x1="529.00" y1="333.10" x2="531.00" y2="333.10" stroke="#000" stroke-width="0.9" />
<text transform="translate(527.80,230.40) scale(1,1.04)" font-size="7.0" text-anchor="end" fill="#000" stroke="#000" stroke-width="0.27" >0.6</text>
<text transform="translate(527.80,293.10) scale(1,1.04)" font-size="7.0" text-anchor="end" fill="#000" stroke="#000" stroke-width="0.27" >0</text>
<text transform="translate(527.80,334.90) scale(1,1.04)" font-size="7.0" text-anchor="end" fill="#000" stroke="#000" stroke-width="0.27" >-0.4</text>
<g fill="none" stroke="#c2c2c2" stroke-width="0.45"><polyline points="538.6,299.2 567.3,267.3"/><polyline points="538.6,280.2 567.3,306.4"/><polyline points="538.6,289.6 567.3,295.3"/><polyline points="538.6,301.8 567.3,267.0"/><polyline points="538.6,299.3 567.3,293.1"/><polyline points="538.6,297.7 567.3,290.2"/><polyline points="538.6,306.7 567.3,257.5"/><polyline points="538.6,262.0 567.3,303.1"/><polyline points="538.6,287.8 567.3,255.2"/><polyline points="538.6,295.9 567.3,307.2"/><polyline points="538.6,277.1 567.3,304.0"/><polyline points="538.6,330.6 567.3,311.6"/><polyline points="538.6,297.4 567.3,287.2"/><polyline points="538.6,307.5 567.3,275.4"/><polyline points="538.6,273.3 567.3,286.1"/><polyline points="538.6,303.8 567.3,296.1"/><polyline points="538.6,294.7 567.3,261.6"/><polyline points="538.6,300.2 567.3,303.4"/><polyline points="538.6,295.1 567.3,263.1"/><polyline points="538.6,319.0 567.3,281.2"/><polyline points="538.6,290.5 567.3,266.4"/><polyline points="538.6,307.1 567.3,293.9"/><polyline points="538.6,295.1 567.3,307.5"/><polyline points="538.6,295.6 567.3,272.1"/></g>
<g fill="#a0a0a0" fill-opacity="0.7"><circle cx="538.6" cy="299.2" r="1.95"/><circle cx="538.6" cy="280.2" r="1.95"/><circle cx="538.6" cy="289.6" r="1.95"/><circle cx="538.6" cy="301.8" r="1.95"/><circle cx="538.6" cy="299.3" r="1.95"/><circle cx="538.6" cy="297.7" r="1.95"/><circle cx="538.6" cy="306.7" r="1.95"/><circle cx="538.6" cy="262.0" r="1.95"/><circle cx="538.6" cy="287.8" r="1.95"/><circle cx="538.6" cy="295.9" r="1.95"/><circle cx="538.6" cy="277.1" r="1.95"/><circle cx="538.6" cy="330.6" r="1.95"/><circle cx="538.6" cy="297.4" r="1.95"/><circle cx="538.6" cy="307.5" r="1.95"/><circle cx="538.6" cy="273.3" r="1.95"/><circle cx="538.6" cy="303.8" r="1.95"/><circle cx="538.6" cy="294.7" r="1.95"/><circle cx="538.6" cy="300.2" r="1.95"/><circle cx="538.6" cy="295.1" r="1.95"/><circle cx="538.6" cy="319.0" r="1.95"/><circle cx="538.6" cy="290.5" r="1.95"/><circle cx="538.6" cy="307.1" r="1.95"/><circle cx="538.6" cy="295.1" r="1.95"/><circle cx="538.6" cy="295.6" r="1.95"/></g>
<g fill="#c9c43a" fill-opacity="0.7"><circle cx="567.3" cy="267.3" r="1.95"/><circle cx="567.3" cy="306.4" r="1.95"/><circle cx="567.3" cy="295.3" r="1.95"/><circle cx="567.3" cy="267.0" r="1.95"/><circle cx="567.3" cy="293.1" r="1.95"/><circle cx="567.3" cy="290.2" r="1.95"/><circle cx="567.3" cy="257.5" r="1.95"/><circle cx="567.3" cy="303.1" r="1.95"/><circle cx="567.3" cy="255.2" r="1.95"/><circle cx="567.3" cy="307.2" r="1.95"/><circle cx="567.3" cy="304.0" r="1.95"/><circle cx="567.3" cy="311.6" r="1.95"/><circle cx="567.3" cy="287.2" r="1.95"/><circle cx="567.3" cy="275.4" r="1.95"/><circle cx="567.3" cy="286.1" r="1.95"/><circle cx="567.3" cy="296.1" r="1.95"/><circle cx="567.3" cy="261.6" r="1.95"/><circle cx="567.3" cy="303.4" r="1.95"/><circle cx="567.3" cy="263.1" r="1.95"/><circle cx="567.3" cy="281.2" r="1.95"/><circle cx="567.3" cy="266.4" r="1.95"/><circle cx="567.3" cy="293.9" r="1.95"/><circle cx="567.3" cy="307.5" r="1.95"/><circle cx="567.3" cy="272.1" r="1.95"/></g>
<ellipse cx="538.6" cy="294.0" rx="2.9" ry="2.1" fill="#fff" fill-opacity="0.7" stroke="#a0a0a0" stroke-width="1.25"/>
<ellipse cx="567.3" cy="284.2" rx="2.9" ry="2.1" fill="#fff" fill-opacity="0.7" stroke="#c9c43a" stroke-width="1.25"/>
<path d="M539.1,225.7V224.5H568.0V225.7" fill="none" stroke="#2a2a2a" stroke-width="0.85"/>
<text transform="translate(553.55,223.90) scale(1,1.04)" font-size="7" text-anchor="middle" fill="#000" stroke="#000" stroke-width="0.3" >***</text>
<line x1="258.40" y1="408.20" x2="258.40" y2="513.50" stroke="#000" stroke-width="1.15" />
<line x1="256.40" y1="408.60" x2="258.40" y2="408.60" stroke="#000" stroke-width="0.9" />
<line x1="256.40" y1="429.50" x2="258.40" y2="429.50" stroke="#000" stroke-width="0.9" />
<line x1="256.40" y1="450.40" x2="258.40" y2="450.40" stroke="#000" stroke-width="0.9" />
<line x1="256.40" y1="471.30" x2="258.40" y2="471.30" stroke="#000" stroke-width="0.9" />
<line x1="256.40" y1="492.20" x2="258.40" y2="492.20" stroke="#000" stroke-width="0.9" />
<line x1="256.40" y1="513.10" x2="258.40" y2="513.10" stroke="#000" stroke-width="0.9" />
<text transform="translate(255.20,410.40) scale(1,1.04)" font-size="7.0" text-anchor="end" fill="#000" stroke="#000" stroke-width="0.27" >0.6</text>
<text transform="translate(255.20,473.10) scale(1,1.04)" font-size="7.0" text-anchor="end" fill="#000" stroke="#000" stroke-width="0.27" >0</text>
<text transform="translate(255.20,514.90) scale(1,1.04)" font-size="7.0" text-anchor="end" fill="#000" stroke="#000" stroke-width="0.27" >-0.4</text>
<g fill="none" stroke="#c2c2c2" stroke-width="0.45"><polyline points="264.8,454.3 293.7,479.4"/><polyline points="264.8,434.0 293.7,462.5"/><polyline points="264.8,455.4 293.7,474.2"/><polyline points="264.8,480.0 293.7,474.4"/><polyline points="264.8,449.4 293.7,458.8"/><polyline points="264.8,466.0 293.7,482.1"/><polyline points="264.8,438.9 293.7,464.7"/><polyline points="264.8,471.3 293.7,479.3"/><polyline points="264.8,442.2 293.7,478.0"/><polyline points="264.8,445.8 293.7,454.5"/><polyline points="264.8,433.7 293.7,437.8"/><polyline points="264.8,464.6 293.7,465.2"/><polyline points="264.8,435.9 293.7,471.9"/><polyline points="264.8,462.6 293.7,473.5"/><polyline points="264.8,470.1 293.7,477.2"/><polyline points="264.8,462.6 293.7,495.8"/><polyline points="264.8,459.6 293.7,483.2"/><polyline points="264.8,471.9 293.7,466.8"/><polyline points="264.8,460.9 293.7,467.5"/><polyline points="264.8,411.4 293.7,433.3"/><polyline points="264.8,475.9 293.7,472.3"/><polyline points="264.8,464.7 293.7,475.4"/><polyline points="264.8,453.1 293.7,475.4"/></g>
<g fill="#4572c0" fill-opacity="0.7"><circle cx="264.8" cy="454.3" r="1.95"/><circle cx="264.8" cy="434.0" r="1.95"/><circle cx="264.8" cy="455.4" r="1.95"/><circle cx="264.8" cy="480.0" r="1.95"/><circle cx="264.8" cy="449.4" r="1.95"/><circle cx="264.8" cy="466.0" r="1.95"/><circle cx="264.8" cy="438.9" r="1.95"/><circle cx="264.8" cy="471.3" r="1.95"/><circle cx="264.8" cy="442.2" r="1.95"/><circle cx="264.8" cy="445.8" r="1.95"/><circle cx="264.8" cy="433.7" r="1.95"/><circle cx="264.8" cy="464.6" r="1.95"/><circle cx="264.8" cy="435.9" r="1.95"/><circle cx="264.8" cy="462.6" r="1.95"/><circle cx="264.8" cy="470.1" r="1.95"/><circle cx="264.8" cy="462.6" r="1.95"/><circle cx="264.8" cy="459.6" r="1.95"/><circle cx="264.8" cy="471.9" r="1.95"/><circle cx="264.8" cy="460.9" r="1.95"/><circle cx="264.8" cy="411.4" r="1.95"/><circle cx="264.8" cy="475.9" r="1.95"/><circle cx="264.8" cy="464.7" r="1.95"/><circle cx="264.8" cy="453.1" r="1.95"/></g>
<g fill="#a0a0a0" fill-opacity="0.7"><circle cx="293.7" cy="479.4" r="1.95"/><circle cx="293.7" cy="462.5" r="1.95"/><circle cx="293.7" cy="474.2" r="1.95"/><circle cx="293.7" cy="474.4" r="1.95"/><circle cx="293.7" cy="458.8" r="1.95"/><circle cx="293.7" cy="482.1" r="1.95"/><circle cx="293.7" cy="464.7" r="1.95"/><circle cx="293.7" cy="479.3" r="1.95"/><circle cx="293.7" cy="478.0" r="1.95"/><circle cx="293.7" cy="454.5" r="1.95"/><circle cx="293.7" cy="437.8" r="1.95"/><circle cx="293.7" cy="465.2" r="1.95"/><circle cx="293.7" cy="471.9" r="1.95"/><circle cx="293.7" cy="473.5" r="1.95"/><circle cx="293.7" cy="477.2" r="1.95"/><circle cx="293.7" cy="495.8" r="1.95"/><circle cx="293.7" cy="483.2" r="1.95"/><circle cx="293.7" cy="466.8" r="1.95"/><circle cx="293.7" cy="467.5" r="1.95"/><circle cx="293.7" cy="433.3" r="1.95"/><circle cx="293.7" cy="472.3" r="1.95"/><circle cx="293.7" cy="475.4" r="1.95"/><circle cx="293.7" cy="475.4" r="1.95"/></g>
<ellipse cx="264.8" cy="459.2" rx="2.9" ry="2.1" fill="#fff" fill-opacity="0.7" stroke="#4572c0" stroke-width="1.25"/>
<ellipse cx="293.7" cy="474.5" rx="2.9" ry="2.1" fill="#fff" fill-opacity="0.7" stroke="#a0a0a0" stroke-width="1.25"/>
<path d="M265.3,405.7V404.5H294.4V405.7" fill="none" stroke="#2a2a2a" stroke-width="0.85"/>
<text transform="translate(279.85,403.90) scale(1,1.04)" font-size="7" text-anchor="middle" fill="#000" stroke="#000" stroke-width="0.3" >***</text>
<line x1="315.50" y1="408.20" x2="315.50" y2="513.50" stroke="#000" stroke-width="1.15" />
<line x1="313.50" y1="408.60" x2="315.50" y2="408.60" stroke="#000" stroke-width="0.9" />
<line x1="313.50" y1="429.50" x2="315.50" y2="429.50" stroke="#000" stroke-width="0.9" />
<line x1="313.50" y1="450.40" x2="315.50" y2="450.40" stroke="#000" stroke-width="0.9" />
<line x1="313.50" y1="471.30" x2="315.50" y2="471.30" stroke="#000" stroke-width="0.9" />
<line x1="313.50" y1="492.20" x2="315.50" y2="492.20" stroke="#000" stroke-width="0.9" />
<line x1="313.50" y1="513.10" x2="315.50" y2="513.10" stroke="#000" stroke-width="0.9" />
<text transform="translate(312.30,410.40) scale(1,1.04)" font-size="7.0" text-anchor="end" fill="#000" stroke="#000" stroke-width="0.27" >0.6</text>
<text transform="translate(312.30,473.10) scale(1,1.04)" font-size="7.0" text-anchor="end" fill="#000" stroke="#000" stroke-width="0.27" >0</text>
<text transform="translate(312.30,514.90) scale(1,1.04)" font-size="7.0" text-anchor="end" fill="#000" stroke="#000" stroke-width="0.27" >-0.4</text>
<g fill="none" stroke="#c2c2c2" stroke-width="0.45"><polyline points="321.3,447.8 350.3,439.2"/><polyline points="321.3,459.4 350.3,465.4"/><polyline points="321.3,476.8 350.3,467.6"/><polyline points="321.3,481.2 350.3,486.0"/><polyline points="321.3,461.8 350.3,466.2"/><polyline points="321.3,449.2 350.3,478.2"/><polyline points="321.3,422.3 350.3,435.5"/><polyline points="321.3,445.4 350.3,471.2"/><polyline points="321.3,481.6 350.3,481.0"/><polyline points="321.3,474.6 350.3,463.5"/><polyline points="321.3,468.0 350.3,465.3"/><polyline points="321.3,436.8 350.3,454.1"/><polyline points="321.3,465.4 350.3,465.7"/><polyline points="321.3,438.8 350.3,442.9"/><polyline points="321.3,434.7 350.3,466.6"/><polyline points="321.3,454.4 350.3,457.9"/><polyline points="321.3,445.8 350.3,457.7"/><polyline points="321.3,475.3 350.3,476.8"/><polyline points="321.3,473.2 350.3,481.6"/><polyline points="321.3,474.6 350.3,458.5"/><polyline points="321.3,462.8 350.3,465.7"/><polyline points="321.3,479.7 350.3,477.0"/></g>
<g fill="#86c5ee" fill-opacity="0.7"><circle cx="321.3" cy="447.8" r="1.95"/><circle cx="321.3" cy="459.4" r="1.95"/><circle cx="321.3" cy="476.8" r="1.95"/><circle cx="321.3" cy="481.2" r="1.95"/><circle cx="321.3" cy="461.8" r="1.95"/><circle cx="321.3" cy="449.2" r="1.95"/><circle cx="321.3" cy="422.3" r="1.95"/><circle cx="321.3" cy="445.4" r="1.95"/><circle cx="321.3" cy="481.6" r="1.95"/><circle cx="321.3" cy="474.6" r="1.95"/><circle cx="321.3" cy="468.0" r="1.95"/><circle cx="321.3" cy="436.8" r="1.95"/><circle cx="321.3" cy="465.4" r="1.95"/><circle cx="321.3" cy="438.8" r="1.95"/><circle cx="321.3" cy="434.7" r="1.95"/><circle cx="321.3" cy="454.4" r="1.95"/><circle cx="321.3" cy="445.8" r="1.95"/><circle cx="321.3" cy="475.3" r="1.95"/><circle cx="321.3" cy="473.2" r="1.95"/><circle cx="321.3" cy="474.6" r="1.95"/><circle cx="321.3" cy="462.8" r="1.95"/><circle cx="321.3" cy="479.7" r="1.95"/></g>
<g fill="#a0a0a0" fill-opacity="0.7"><circle cx="350.3" cy="439.2" r="1.95"/><circle cx="350.3" cy="465.4" r="1.95"/><circle cx="350.3" cy="467.6" r="1.95"/><circle cx="350.3" cy="486.0" r="1.95"/><circle cx="350.3" cy="466.2" r="1.95"/><circle cx="350.3" cy="478.2" r="1.95"/><circle cx="350.3" cy="435.5" r="1.95"/><circle cx="350.3" cy="471.2" r="1.95"/><circle cx="350.3" cy="481.0" r="1.95"/><circle cx="350.3" cy="463.5" r="1.95"/><circle cx="350.3" cy="465.3" r="1.95"/><circle cx="350.3" cy="454.1" r="1.95"/><circle cx="350.3" cy="465.7" r="1.95"/><circle cx="350.3" cy="442.9" r="1.95"/><circle cx="350.3" cy="466.6" r="1.95"/><circle cx="350.3" cy="457.9" r="1.95"/><circle cx="350.3" cy="457.7" r="1.95"/><circle cx="350.3" cy="476.8" r="1.95"/><circle cx="350.3" cy="481.6" r="1.95"/><circle cx="350.3" cy="458.5" r="1.95"/><circle cx="350.3" cy="465.7" r="1.95"/><circle cx="350.3" cy="477.0" r="1.95"/></g>
<ellipse cx="321.3" cy="465.9" rx="2.9" ry="2.1" fill="#fff" fill-opacity="0.7" stroke="#86c5ee" stroke-width="1.25"/>
<ellipse cx="350.3" cy="472.4" rx="2.9" ry="2.1" fill="#fff" fill-opacity="0.7" stroke="#a0a0a0" stroke-width="1.25"/>
<path d="M321.8,405.7V404.5H351.0V405.7" fill="none" stroke="#2a2a2a" stroke-width="0.85"/>
<text transform="translate(336.40,403.90) scale(1,1.04)" font-size="7" text-anchor="middle" fill="#000" stroke="#000" stroke-width="0.3" >***</text>
<line x1="371.40" y1="408.20" x2="371.40" y2="513.50" stroke="#000" stroke-width="1.15" />
<line x1="369.40" y1="408.60" x2="371.40" y2="408.60" stroke="#000" stroke-width="0.9" />
<line x1="369.40" y1="429.50" x2="371.40" y2="429.50" stroke="#000" stroke-width="0.9" />
<line x1="369.40" y1="450.40" x2="371.40" y2="450.40" stroke="#000" stroke-width="0.9" />
<line x1="369.40" y1="471.30" x2="371.40" y2="471.30" stroke="#000" stroke-width="0.9" />
<line x1="369.40" y1="492.20" x2="371.40" y2="492.20" stroke="#000" stroke-width="0.9" />
<line x1="369.40" y1="513.10" x2="371.40" y2="513.10" stroke="#000" stroke-width="0.9" />
<text transform="translate(368.20,410.40) scale(1,1.04)" font-size="7.0" text-anchor="end" fill="#000" stroke="#000" stroke-width="0.27" >0.6</text>
<text transform="translate(368.20,473.10) scale(1,1.04)" font-size="7.0" text-anchor="end" fill="#000" stroke="#000" stroke-width="0.27" >0</text>
<text transform="translate(368.20,514.90) scale(1,1.04)" font-size="7.0" text-anchor="end" fill="#000" stroke="#000" stroke-width="0.27" >-0.4</text>
<g fill="none" stroke="#c2c2c2" stroke-width="0.45"><polyline points="377.8,461.2 406.7,461.1"/><polyline points="377.8,467.0 406.7,487.8"/><polyline points="377.8,481.7 406.7,479.8"/><polyline points="377.8,462.6 406.7,492.1"/><polyline points="377.8,475.9 406.7,478.3"/><polyline points="377.8,461.7 406.7,462.0"/><polyline points="377.8,463.1 406.7,452.1"/><polyline points="377.8,450.6 406.7,461.5"/><polyline points="377.8,487.2 406.7,488.2"/><polyline points="377.8,473.7 406.7,472.6"/><polyline points="377.8,481.8 406.7,481.7"/><polyline points="377.8,463.9 406.7,487.8"/><polyline points="377.8,476.0 406.7,481.0"/><polyline points="377.8,459.7 406.7,460.3"/><polyline points="377.8,458.2 406.7,489.0"/><polyline points="377.8,456.5 406.7,481.9"/><polyline points="377.8,473.1 406.7,471.3"/><polyline points="377.8,459.4 406.7,475.7"/><polyline points="377.8,460.2 406.7,469.5"/><polyline points="377.8,489.4 406.7,478.5"/><polyline points="377.8,491.6 406.7,477.3"/><polyline points="377.8,457.9 406.7,481.5"/></g>
<g fill="#3cbde0" fill-opacity="0.7"><circle cx="377.8" cy="461.2" r="1.95"/><circle cx="377.8" cy="467.0" r="1.95"/><circle cx="377.8" cy="481.7" r="1.95"/><circle cx="377.8" cy="462.6" r="1.95"/><circle cx="377.8" cy="475.9" r="1.95"/><circle cx="377.8" cy="461.7" r="1.95"/><circle cx="377.8" cy="463.1" r="1.95"/><circle cx="377.8" cy="450.6" r="1.95"/><circle cx="377.8" cy="487.2" r="1.95"/><circle cx="377.8" cy="473.7" r="1.95"/><circle cx="377.8" cy="481.8" r="1.95"/><circle cx="377.8" cy="463.9" r="1.95"/><circle cx="377.8" cy="476.0" r="1.95"/><circle cx="377.8" cy="459.7" r="1.95"/><circle cx="377.8" cy="458.2" r="1.95"/><circle cx="377.8" cy="456.5" r="1.95"/><circle cx="377.8" cy="473.1" r="1.95"/><circle cx="377.8" cy="459.4" r="1.95"/><circle cx="377.8" cy="460.2" r="1.95"/><circle cx="377.8" cy="489.4" r="1.95"/><circle cx="377.8" cy="491.6" r="1.95"/><circle cx="377.8" cy="457.9" r="1.95"/></g>
<g fill="#a0a0a0" fill-opacity="0.7"><circle cx="406.7" cy="461.1" r="1.95"/><circle cx="406.7" cy="487.8" r="1.95"/><circle cx="406.7" cy="479.8" r="1.95"/><circle cx="406.7" cy="492.1" r="1.95"/><circle cx="406.7" cy="478.3" r="1.95"/><circle cx="406.7" cy="462.0" r="1.95"/><circle cx="406.7" cy="452.1" r="1.95"/><circle cx="406.7" cy="461.5" r="1.95"/><circle cx="406.7" cy="488.2" r="1.95"/><circle cx="406.7" cy="472.6" r="1.95"/><circle cx="406.7" cy="481.7" r="1.95"/><circle cx="406.7" cy="487.8" r="1.95"/><circle cx="406.7" cy="481.0" r="1.95"/><circle cx="406.7" cy="460.3" r="1.95"/><circle cx="406.7" cy="489.0" r="1.95"/><circle cx="406.7" cy="481.9" r="1.95"/><circle cx="406.7" cy="471.3" r="1.95"/><circle cx="406.7" cy="475.7" r="1.95"/><circle cx="406.7" cy="469.5" r="1.95"/><circle cx="406.7" cy="478.5" r="1.95"/><circle cx="406.7" cy="477.3" r="1.95"/><circle cx="406.7" cy="481.5" r="1.95"/></g>
<ellipse cx="377.8" cy="471.3" rx="2.9" ry="2.1" fill="#fff" fill-opacity="0.7" stroke="#3cbde0" stroke-width="1.25"/>
<ellipse cx="406.7" cy="478.6" rx="2.9" ry="2.1" fill="#fff" fill-opacity="0.7" stroke="#a0a0a0" stroke-width="1.25"/>
<path d="M378.3,405.7V404.5H407.4V405.7" fill="none" stroke="#2a2a2a" stroke-width="0.85"/>
<text transform="translate(392.85,403.90) scale(1,1.04)" font-size="7" text-anchor="middle" fill="#000" stroke="#000" stroke-width="0.3" >***</text>
<line x1="423.50" y1="408.20" x2="423.50" y2="513.50" stroke="#000" stroke-width="1.15" />
<line x1="421.50" y1="408.60" x2="423.50" y2="408.60" stroke="#000" stroke-width="0.9" />
<line x1="421.50" y1="429.50" x2="423.50" y2="429.50" stroke="#000" stroke-width="0.9" />
<line x1="421.50" y1="450.40" x2="423.50" y2="450.40" stroke="#000" stroke-width="0.9" />
<line x1="421.50" y1="471.30" x2="423.50" y2="471.30" stroke="#000" stroke-width="0.9" />
<line x1="421.50" y1="492.20" x2="423.50" y2="492.20" stroke="#000" stroke-width="0.9" />
<line x1="421.50" y1="513.10" x2="423.50" y2="513.10" stroke="#000" stroke-width="0.9" />
<text transform="translate(420.30,410.40) scale(1,1.04)" font-size="7.0" text-anchor="end" fill="#000" stroke="#000" stroke-width="0.27" >0.6</text>
<text transform="translate(420.30,473.10) scale(1,1.04)" font-size="7.0" text-anchor="end" fill="#000" stroke="#000" stroke-width="0.27" >0</text>
<text transform="translate(420.30,514.90) scale(1,1.04)" font-size="7.0" text-anchor="end" fill="#000" stroke="#000" stroke-width="0.27" >-0.4</text>
<g fill="none" stroke="#c2c2c2" stroke-width="0.45"><polyline points="431.5,456.3 460.5,446.0"/><polyline points="431.5,476.8 460.5,483.2"/><polyline points="431.5,468.4 460.5,448.6"/><polyline points="431.5,445.1 460.5,474.7"/><polyline points="431.5,458.9 460.5,456.8"/><polyline points="431.5,474.3 460.5,490.1"/><polyline points="431.5,444.9 460.5,457.7"/><polyline points="431.5,436.4 460.5,479.2"/><polyline points="431.5,473.4 460.5,468.0"/><polyline points="431.5,458.9 460.5,456.6"/><polyline points="431.5,479.9 460.5,489.1"/><polyline points="431.5,450.4 460.5,455.0"/><polyline points="431.5,470.9 460.5,474.8"/><polyline points="431.5,471.1 460.5,486.4"/><polyline points="431.5,471.2 460.5,481.0"/><polyline points="431.5,460.7 460.5,457.5"/><polyline points="431.5,474.1 460.5,459.6"/><polyline points="431.5,451.8 460.5,484.5"/><polyline points="431.5,444.7 460.5,443.4"/><polyline points="431.5,455.3 460.5,478.3"/><polyline points="431.5,453.6 460.5,468.4"/><polyline points="431.5,440.2 460.5,478.9"/></g>
<g fill="#2db596" fill-opacity="0.7"><circle cx="431.5" cy="456.3" r="1.95"/><circle cx="431.5" cy="476.8" r="1.95"/><circle cx="431.5" cy="468.4" r="1.95"/><circle cx="431.5" cy="445.1" r="1.95"/><circle cx="431.5" cy="458.9" r="1.95"/><circle cx="431.5" cy="474.3" r="1.95"/><circle cx="431.5" cy="444.9" r="1.95"/><circle cx="431.5" cy="436.4" r="1.95"/><circle cx="431.5" cy="473.4" r="1.95"/><circle cx="431.5" cy="458.9" r="1.95"/><circle cx="431.5" cy="479.9" r="1.95"/><circle cx="431.5" cy="450.4" r="1.95"/><circle cx="431.5" cy="470.9" r="1.95"/><circle cx="431.5" cy="471.1" r="1.95"/><circle cx="431.5" cy="471.2" r="1.95"/><circle cx="431.5" cy="460.7" r="1.95"/><circle cx="431.5" cy="474.1" r="1.95"/><circle cx="431.5" cy="451.8" r="1.95"/><circle cx="431.5" cy="444.7" r="1.95"/><circle cx="431.5" cy="455.3" r="1.95"/><circle cx="431.5" cy="453.6" r="1.95"/><circle cx="431.5" cy="440.2" r="1.95"/></g>
<g fill="#a0a0a0" fill-opacity="0.7"><circle cx="460.5" cy="446.0" r="1.95"/><circle cx="460.5" cy="483.2" r="1.95"/><circle cx="460.5" cy="448.6" r="1.95"/><circle cx="460.5" cy="474.7" r="1.95"/><circle cx="460.5" cy="456.8" r="1.95"/><circle cx="460.5" cy="490.1" r="1.95"/><circle cx="460.5" cy="457.7" r="1.95"/><circle cx="460.5" cy="479.2" r="1.95"/><circle cx="460.5" cy="468.0" r="1.95"/><circle cx="460.5" cy="456.6" r="1.95"/><circle cx="460.5" cy="489.1" r="1.95"/><circle cx="460.5" cy="455.0" r="1.95"/><circle cx="460.5" cy="474.8" r="1.95"/><circle cx="460.5" cy="486.4" r="1.95"/><circle cx="460.5" cy="481.0" r="1.95"/><circle cx="460.5" cy="457.5" r="1.95"/><circle cx="460.5" cy="459.6" r="1.95"/><circle cx="460.5" cy="484.5" r="1.95"/><circle cx="460.5" cy="443.4" r="1.95"/><circle cx="460.5" cy="478.3" r="1.95"/><circle cx="460.5" cy="468.4" r="1.95"/><circle cx="460.5" cy="478.9" r="1.95"/></g>
<ellipse cx="431.5" cy="464.8" rx="2.9" ry="2.1" fill="#fff" fill-opacity="0.7" stroke="#2db596" stroke-width="1.25"/>
<ellipse cx="460.5" cy="469.4" rx="2.9" ry="2.1" fill="#fff" fill-opacity="0.7" stroke="#a0a0a0" stroke-width="1.25"/>
<path d="M432.0,405.7V404.5H461.2V405.7" fill="none" stroke="#2a2a2a" stroke-width="0.85"/>
<text transform="translate(446.60,403.90) scale(1,1.04)" font-size="7" text-anchor="middle" fill="#000" stroke="#000" stroke-width="0.3" >***</text>
<line x1="477.70" y1="408.20" x2="477.70" y2="513.50" stroke="#000" stroke-width="1.15" />
<line x1="475.70" y1="408.60" x2="477.70" y2="408.60" stroke="#000" stroke-width="0.9" />
<line x1="475.70" y1="429.50" x2="477.70" y2="429.50" stroke="#000" stroke-width="0.9" />
<line x1="475.70" y1="450.40" x2="477.70" y2="450.40" stroke="#000" stroke-width="0.9" />
<line x1="475.70" y1="471.30" x2="477.70" y2="471.30" stroke="#000" stroke-width="0.9" />
<line x1="475.70" y1="492.20" x2="477.70" y2="492.20" stroke="#000" stroke-width="0.9" />
<line x1="475.70" y1="513.10" x2="477.70" y2="513.10" stroke="#000" stroke-width="0.9" />
<text transform="translate(474.50,410.40) scale(1,1.04)" font-size="7.0" text-anchor="end" fill="#000" stroke="#000" stroke-width="0.27" >0.6</text>
<text transform="translate(474.50,473.10) scale(1,1.04)" font-size="7.0" text-anchor="end" fill="#000" stroke="#000" stroke-width="0.27" >0</text>
<text transform="translate(474.50,514.90) scale(1,1.04)" font-size="7.0" text-anchor="end" fill="#000" stroke="#000" stroke-width="0.27" >-0.4</text>
<g fill="none" stroke="#c2c2c2" stroke-width="0.45"><polyline points="483.8,462.0 512.7,459.7"/><polyline points="483.8,445.2 512.7,461.6"/><polyline points="483.8,477.3 512.7,467.4"/><polyline points="483.8,467.8 512.7,485.1"/><polyline points="483.8,456.0 512.7,431.6"/><polyline points="483.8,460.6 512.7,460.5"/><polyline points="483.8,482.0 512.7,492.9"/><polyline points="483.8,448.5 512.7,458.9"/><polyline points="483.8,447.7 512.7,467.4"/><polyline points="483.8,486.0 512.7,476.5"/><polyline points="483.8,446.9 512.7,460.6"/><polyline points="483.8,442.8 512.7,457.9"/><polyline points="483.8,480.1 512.7,480.4"/><polyline points="483.8,461.7 512.7,460.6"/><polyline points="483.8,447.4 512.7,487.2"/><polyline points="483.8,450.1 512.7,459.3"/><polyline points="483.8,463.6 512.7,458.5"/><polyline points="483.8,472.0 512.7,468.0"/><polyline points="483.8,484.6 512.7,474.0"/><polyline points="483.8,456.6 512.7,464.2"/><polyline points="483.8,451.3 512.7,443.1"/><polyline points="483.8,460.4 512.7,478.4"/><polyline points="483.8,472.2 512.7,460.7"/><polyline points="483.8,477.7 512.7,477.9"/></g>
<g fill="#2090a2" fill-opacity="0.7"><circle cx="483.8" cy="462.0" r="1.95"/><circle cx="483.8" cy="445.2" r="1.95"/><circle cx="483.8" cy="477.3" r="1.95"/><circle cx="483.8" cy="467.8" r="1.95"/><circle cx="483.8" cy="456.0" r="1.95"/><circle cx="483.8" cy="460.6" r="1.95"/><circle cx="483.8" cy="482.0" r="1.95"/><circle cx="483.8" cy="448.5" r="1.95"/><circle cx="483.8" cy="447.7" r="1.95"/><circle cx="483.8" cy="486.0" r="1.95"/><circle cx="483.8" cy="446.9" r="1.95"/><circle cx="483.8" cy="442.8" r="1.95"/><circle cx="483.8" cy="480.1" r="1.95"/><circle cx="483.8" cy="461.7" r="1.95"/><circle cx="483.8" cy="447.4" r="1.95"/><circle cx="483.8" cy="450.1" r="1.95"/><circle cx="483.8" cy="463.6" r="1.95"/><circle cx="483.8" cy="472.0" r="1.95"/><circle cx="483.8" cy="484.6" r="1.95"/><circle cx="483.8" cy="456.6" r="1.95"/><circle cx="483.8" cy="451.3" r="1.95"/><circle cx="483.8" cy="460.4" r="1.95"/><circle cx="483.8" cy="472.2" r="1.95"/><circle cx="483.8" cy="477.7" r="1.95"/></g>
<g fill="#a0a0a0" fill-opacity="0.7"><circle cx="512.7" cy="459.7" r="1.95"/><circle cx="512.7" cy="461.6" r="1.95"/><circle cx="512.7" cy="467.4" r="1.95"/><circle cx="512.7" cy="485.1" r="1.95"/><circle cx="512.7" cy="431.6" r="1.95"/><circle cx="512.7" cy="460.5" r="1.95"/><circle cx="512.7" cy="492.9" r="1.95"/><circle cx="512.7" cy="458.9" r="1.95"/><circle cx="512.7" cy="467.4" r="1.95"/><circle cx="512.7" cy="476.5" r="1.95"/><circle cx="512.7" cy="460.6" r="1.95"/><circle cx="512.7" cy="457.9" r="1.95"/><circle cx="512.7" cy="480.4" r="1.95"/><circle cx="512.7" cy="460.6" r="1.95"/><circle cx="512.7" cy="487.2" r="1.95"/><circle cx="512.7" cy="459.3" r="1.95"/><circle cx="512.7" cy="458.5" r="1.95"/><circle cx="512.7" cy="468.0" r="1.95"/><circle cx="512.7" cy="474.0" r="1.95"/><circle cx="512.7" cy="464.2" r="1.95"/><circle cx="512.7" cy="443.1" r="1.95"/><circle cx="512.7" cy="478.4" r="1.95"/><circle cx="512.7" cy="460.7" r="1.95"/><circle cx="512.7" cy="477.9" r="1.95"/></g>
<ellipse cx="483.8" cy="469.6" rx="2.9" ry="2.1" fill="#fff" fill-opacity="0.7" stroke="#2090a2" stroke-width="1.25"/>
<ellipse cx="512.7" cy="476.8" rx="2.9" ry="2.1" fill="#fff" fill-opacity="0.7" stroke="#a0a0a0" stroke-width="1.25"/>
<path d="M484.3,405.7V404.5H513.4V405.7" fill="none" stroke="#2a2a2a" stroke-width="0.85"/>
<text transform="translate(498.85,403.90) scale(1,1.04)" font-size="7" text-anchor="middle" fill="#000" stroke="#000" stroke-width="0.3" >**</text>
<line x1="531.00" y1="408.20" x2="531.00" y2="513.50" stroke="#000" stroke-width="1.15" />
<line x1="529.00" y1="408.60" x2="531.00" y2="408.60" stroke="#000" stroke-width="0.9" />
<line x1="529.00" y1="429.50" x2="531.00" y2="429.50" stroke="#000" stroke-width="0.9" />
<line x1="529.00" y1="450.40" x2="531.00" y2="450.40" stroke="#000" stroke-width="0.9" />
<line x1="529.00" y1="471.30" x2="531.00" y2="471.30" stroke="#000" stroke-width="0.9" />
<line x1="529.00" y1="492.20" x2="531.00" y2="492.20" stroke="#000" stroke-width="0.9" />
<line x1="529.00" y1="513.10" x2="531.00" y2="513.10" stroke="#000" stroke-width="0.9" />
<text transform="translate(527.80,410.40) scale(1,1.04)" font-size="7.0" text-anchor="end" fill="#000" stroke="#000" stroke-width="0.27" >0.6</text>
<text transform="translate(527.80,473.10) scale(1,1.04)" font-size="7.0" text-anchor="end" fill="#000" stroke="#000" stroke-width="0.27" >0</text>
<text transform="translate(527.80,514.90) scale(1,1.04)" font-size="7.0" text-anchor="end" fill="#000" stroke="#000" stroke-width="0.27" >-0.4</text>
<g fill="none" stroke="#c2c2c2" stroke-width="0.45"><polyline points="538.2,443.3 566.7,468.1"/><polyline points="538.2,455.7 566.7,485.3"/><polyline points="538.2,473.3 566.7,490.9"/><polyline points="538.2,435.2 566.7,434.9"/><polyline points="538.2,453.3 566.7,471.2"/><polyline points="538.2,443.2 566.7,448.5"/><polyline points="538.2,465.9 566.7,488.4"/><polyline points="538.2,446.8 566.7,468.1"/><polyline points="538.2,452.7 566.7,471.1"/><polyline points="538.2,475.8 566.7,498.1"/><polyline points="538.2,438.1 566.7,448.4"/><polyline points="538.2,477.6 566.7,470.1"/><polyline points="538.2,472.3 566.7,490.3"/><polyline points="538.2,484.6 566.7,493.0"/><polyline points="538.2,474.0 566.7,478.9"/><polyline points="538.2,492.3 566.7,484.1"/><polyline points="538.2,463.2 566.7,462.2"/><polyline points="538.2,460.9 566.7,460.4"/><polyline points="538.2,473.3 566.7,473.3"/><polyline points="538.2,487.9 566.7,490.7"/><polyline points="538.2,481.3 566.7,462.3"/><polyline points="538.2,455.6 566.7,452.4"/></g>
<g fill="#c9c43a" fill-opacity="0.7"><circle cx="538.2" cy="443.3" r="1.95"/><circle cx="538.2" cy="455.7" r="1.95"/><circle cx="538.2" cy="473.3" r="1.95"/><circle cx="538.2" cy="435.2" r="1.95"/><circle cx="538.2" cy="453.3" r="1.95"/><circle cx="538.2" cy="443.2" r="1.95"/><circle cx="538.2" cy="465.9" r="1.95"/><circle cx="538.2" cy="446.8" r="1.95"/><circle cx="538.2" cy="452.7" r="1.95"/><circle cx="538.2" cy="475.8" r="1.95"/><circle cx="538.2" cy="438.1" r="1.95"/><circle cx="538.2" cy="477.6" r="1.95"/><circle cx="538.2" cy="472.3" r="1.95"/><circle cx="538.2" cy="484.6" r="1.95"/><circle cx="538.2" cy="474.0" r="1.95"/><circle cx="538.2" cy="492.3" r="1.95"/><circle cx="538.2" cy="463.2" r="1.95"/><circle cx="538.2" cy="460.9" r="1.95"/><circle cx="538.2" cy="473.3" r="1.95"/><circle cx="538.2" cy="487.9" r="1.95"/><circle cx="538.2" cy="481.3" r="1.95"/><circle cx="538.2" cy="455.6" r="1.95"/></g>
<g fill="#a0a0a0" fill-opacity="0.7"><circle cx="566.7" cy="468.1" r="1.95"/><circle cx="566.7" cy="485.3" r="1.95"/><circle cx="566.7" cy="490.9" r="1.95"/><circle cx="566.7" cy="434.9" r="1.95"/><circle cx="566.7" cy="471.2" r="1.95"/><circle cx="566.7" cy="448.5" r="1.95"/><circle cx="566.7" cy="488.4" r="1.95"/><circle cx="566.7" cy="468.1" r="1.95"/><circle cx="566.7" cy="471.1" r="1.95"/><circle cx="566.7" cy="498.1" r="1.95"/><circle cx="566.7" cy="448.4" r="1.95"/><circle cx="566.7" cy="470.1" r="1.95"/><circle cx="566.7" cy="490.3" r="1.95"/><circle cx="566.7" cy="493.0" r="1.95"/><circle cx="566.7" cy="478.9" r="1.95"/><circle cx="566.7" cy="484.1" r="1.95"/><circle cx="566.7" cy="462.2" r="1.95"/><circle cx="566.7" cy="460.4" r="1.95"/><circle cx="566.7" cy="473.3" r="1.95"/><circle cx="566.7" cy="490.7" r="1.95"/><circle cx="566.7" cy="462.3" r="1.95"/><circle cx="566.7" cy="452.4" r="1.95"/></g>
<ellipse cx="538.2" cy="464.8" rx="2.9" ry="2.1" fill="#fff" fill-opacity="0.7" stroke="#c9c43a" stroke-width="1.25"/>
<ellipse cx="566.7" cy="471.5" rx="2.9" ry="2.1" fill="#fff" fill-opacity="0.7" stroke="#a0a0a0" stroke-width="1.25"/>
<path d="M538.7,405.7V404.5H567.4V405.7" fill="none" stroke="#2a2a2a" stroke-width="0.85"/>
<text transform="translate(553.05,403.90) scale(1,1.04)" font-size="7" text-anchor="middle" fill="#000" stroke="#000" stroke-width="0.3" >***</text>
<rect x="266.7" y="342" width="5.2" height="9.7" rx="1.3" fill="url(#ge)"/>
<circle cx="289.8" cy="341.8" r="1.75" fill="url(#gd)"/>
<circle cx="295.8" cy="341.8" r="1.75" fill="#2a86d6"/>
<circle cx="289.8" cy="346.3" r="1.75" fill="url(#gd)"/>
<circle cx="295.8" cy="346.3" r="1.75" fill="url(#gd)"/>
<circle cx="289.8" cy="350.8" r="1.75" fill="url(#gd)"/>
<circle cx="295.8" cy="350.8" r="1.75" fill="url(#gd)"/>
<text transform="translate(282.00,364.30) scale(1,1.04)" font-size="8.7" text-anchor="middle" fill="#4572c0" stroke="#4572c0" stroke-width="0.15" >RF</text>
<rect x="321.2" y="342" width="5.2" height="9.7" rx="1.3" fill="url(#ge)"/>
<circle cx="344.6" cy="341.8" r="1.75" fill="url(#gd)"/>
<circle cx="350.6" cy="341.8" r="1.75" fill="#2a86d6"/>
<circle cx="344.6" cy="346.3" r="1.75" fill="url(#gd)"/>
<circle cx="350.6" cy="346.3" r="1.75" fill="url(#gd)"/>
<circle cx="344.6" cy="350.8" r="1.75" fill="url(#gd)"/>
<circle cx="350.6" cy="350.8" r="1.75" fill="url(#gd)"/>
<text transform="translate(336.20,364.30) scale(1,1.04)" font-size="8.7" text-anchor="middle" fill="#86c5ee" stroke="#86c5ee" stroke-width="0.15" >VL</text>
<rect x="375.5" y="342" width="5.2" height="9.7" rx="1.3" fill="url(#ge)"/>
<circle cx="399.1" cy="341.8" r="1.75" fill="url(#gd)"/>
<circle cx="405.1" cy="341.8" r="1.75" fill="url(#gd)"/>
<circle cx="399.1" cy="346.3" r="1.75" fill="url(#gd)"/>
<circle cx="405.1" cy="346.3" r="1.75" fill="url(#gd)"/>
<circle cx="399.1" cy="350.8" r="1.75" fill="url(#gd)"/>
<circle cx="405.1" cy="350.8" r="1.75" fill="#3cbde0"/>
<text transform="translate(390.50,364.30) scale(1,1.04)" font-size="8.7" text-anchor="middle" fill="#3cbde0" stroke="#3cbde0" stroke-width="0.15" >ST</text>
<rect x="430.3" y="342" width="5.2" height="9.7" rx="1.3" fill="url(#ge)"/>
<circle cx="453.4" cy="341.8" r="1.75" fill="url(#gd)"/>
<circle cx="459.4" cy="341.8" r="1.75" fill="url(#gd)"/>
<circle cx="453.4" cy="346.3" r="1.75" fill="url(#gd)"/>
<circle cx="459.4" cy="346.3" r="1.75" fill="url(#gd)"/>
<circle cx="453.4" cy="350.8" r="1.75" fill="url(#gd)"/>
<circle cx="459.4" cy="350.8" r="1.75" fill="#5cb85c"/>
<text transform="translate(445.60,364.30) scale(1,1.04)" font-size="8.7" text-anchor="middle" fill="#2db596" stroke="#2db596" stroke-width="0.15" >TA</text>
<rect x="481.8" y="342" width="5.2" height="9.7" rx="1.3" fill="url(#ge)"/>
<circle cx="510.2" cy="341.8" r="1.75" fill="url(#gd)"/>
<circle cx="516.2" cy="341.8" r="1.75" fill="url(#gd)"/>
<circle cx="510.2" cy="346.3" r="1.75" fill="url(#gd)"/>
<circle cx="516.2" cy="346.3" r="1.75" fill="url(#gd)"/>
<circle cx="510.2" cy="350.8" r="1.75" fill="url(#gd)"/>
<circle cx="516.2" cy="350.8" r="1.75" fill="#5cb85c"/>
<text transform="translate(499.00,364.30) scale(1,1.04)" font-size="8.7" text-anchor="middle" fill="#2090a2" stroke="#2090a2" stroke-width="0.15" >MG</text>
<rect x="536.9" y="342" width="5.2" height="9.7" rx="1.3" fill="url(#ge)"/>
<circle cx="563.9" cy="341.8" r="1.75" fill="url(#gd)"/>
<circle cx="569.9" cy="341.8" r="1.75" fill="url(#gd)"/>
<circle cx="563.9" cy="346.3" r="1.75" fill="url(#gd)"/>
<circle cx="569.9" cy="346.3" r="1.75" fill="url(#gd)"/>
<circle cx="563.9" cy="350.8" r="1.75" fill="url(#gd)"/>
<circle cx="569.9" cy="350.8" r="1.75" fill="#5cb85c"/>
<text transform="translate(554.10,364.30) scale(1,1.04)" font-size="8.7" text-anchor="middle" fill="#c9c43a" stroke="#c9c43a" stroke-width="0.15" >SL</text>
<circle cx="264.5" cy="523.4" r="1.6" fill="#2a86d6"/>
<circle cx="270.4" cy="523.4" r="1.6" fill="url(#gd)"/>
<circle cx="264.5" cy="527.6" r="1.6" fill="url(#gd)"/>
<circle cx="270.4" cy="527.6" r="1.6" fill="url(#gd)"/>
<circle cx="264.5" cy="531.8" r="1.6" fill="url(#gd)"/>
<circle cx="270.4" cy="531.8" r="1.6" fill="url(#gd)"/>
<circle cx="288.1" cy="523.4" r="1.6" fill="url(#gd)"/>
<circle cx="294.1" cy="523.4" r="1.6" fill="url(#gk)"/>
<circle cx="288.1" cy="527.6" r="1.6" fill="url(#gd)"/>
<circle cx="294.1" cy="527.6" r="1.6" fill="url(#gd)"/>
<circle cx="288.1" cy="531.8" r="1.6" fill="url(#gd)"/>
<circle cx="294.1" cy="531.8" r="1.6" fill="url(#gd)"/>
<text transform="translate(279.25,546.30) scale(1,1.04)" font-size="8.7" text-anchor="middle" fill="#4572c0" stroke="#4572c0" stroke-width="0.15" >RF</text>
<circle cx="321.0" cy="523.4" r="1.6" fill="#2a86d6"/>
<circle cx="326.9" cy="523.4" r="1.6" fill="url(#gd)"/>
<circle cx="321.0" cy="527.6" r="1.6" fill="url(#gd)"/>
<circle cx="326.9" cy="527.6" r="1.6" fill="url(#gd)"/>
<circle cx="321.0" cy="531.8" r="1.6" fill="url(#gd)"/>
<circle cx="326.9" cy="531.8" r="1.6" fill="url(#gd)"/>
<circle cx="344.7" cy="523.4" r="1.6" fill="url(#gd)"/>
<circle cx="350.7" cy="523.4" r="1.6" fill="url(#gk)"/>
<circle cx="344.7" cy="527.6" r="1.6" fill="url(#gd)"/>
<circle cx="350.7" cy="527.6" r="1.6" fill="url(#gd)"/>
<circle cx="344.7" cy="531.8" r="1.6" fill="url(#gd)"/>
<circle cx="350.7" cy="531.8" r="1.6" fill="url(#gd)"/>
<text transform="translate(335.80,546.30) scale(1,1.04)" font-size="8.7" text-anchor="middle" fill="#86c5ee" stroke="#86c5ee" stroke-width="0.15" >VL</text>
<circle cx="377.5" cy="523.4" r="1.6" fill="url(#gd)"/>
<circle cx="383.4" cy="523.4" r="1.6" fill="url(#gd)"/>
<circle cx="377.5" cy="527.6" r="1.6" fill="url(#gd)"/>
<circle cx="383.4" cy="527.6" r="1.6" fill="url(#gd)"/>
<circle cx="377.5" cy="531.8" r="1.6" fill="#3cbde0"/>
<circle cx="383.4" cy="531.8" r="1.6" fill="url(#gd)"/>
<circle cx="401.1" cy="523.4" r="1.6" fill="url(#gd)"/>
<circle cx="407.1" cy="523.4" r="1.6" fill="url(#gd)"/>
<circle cx="401.1" cy="527.6" r="1.6" fill="url(#gd)"/>
<circle cx="407.1" cy="527.6" r="1.6" fill="url(#gd)"/>
<circle cx="401.1" cy="531.8" r="1.6" fill="url(#gd)"/>
<circle cx="407.1" cy="531.8" r="1.6" fill="url(#gk)"/>
<text transform="translate(392.25,546.30) scale(1,1.04)" font-size="8.7" text-anchor="middle" fill="#3cbde0" stroke="#3cbde0" stroke-width="0.15" >ST</text>
<circle cx="431.2" cy="523.4" r="1.6" fill="url(#gd)"/>
<circle cx="437.1" cy="523.4" r="1.6" fill="url(#gd)"/>
<circle cx="431.2" cy="527.6" r="1.6" fill="url(#gd)"/>
<circle cx="437.1" cy="527.6" r="1.6" fill="url(#gd)"/>
<circle cx="431.2" cy="531.8" r="1.6" fill="#5cb85c"/>
<circle cx="437.1" cy="531.8" r="1.6" fill="url(#gd)"/>
<circle cx="454.9" cy="523.4" r="1.6" fill="url(#gd)"/>
<circle cx="460.9" cy="523.4" r="1.6" fill="url(#gd)"/>
<circle cx="454.9" cy="527.6" r="1.6" fill="url(#gd)"/>
<circle cx="460.9" cy="527.6" r="1.6" fill="url(#gd)"/>
<circle cx="454.9" cy="531.8" r="1.6" fill="url(#gd)"/>
<circle cx="460.9" cy="531.8" r="1.6" fill="url(#gk)"/>
<text transform="translate(446.00,546.30) scale(1,1.04)" font-size="8.7" text-anchor="middle" fill="#2db596" stroke="#2db596" stroke-width="0.15" >TA</text>
<circle cx="483.5" cy="523.4" r="1.6" fill="url(#gd)"/>
<circle cx="489.4" cy="523.4" r="1.6" fill="url(#gd)"/>
<circle cx="483.5" cy="527.6" r="1.6" fill="url(#gd)"/>
<circle cx="489.4" cy="527.6" r="1.6" fill="url(#gd)"/>
<circle cx="483.5" cy="531.8" r="1.6" fill="#5cb85c"/>
<circle cx="489.4" cy="531.8" r="1.6" fill="url(#gd)"/>
<circle cx="507.1" cy="523.4" r="1.6" fill="url(#gd)"/>
<circle cx="513.1" cy="523.4" r="1.6" fill="url(#gd)"/>
<circle cx="507.1" cy="527.6" r="1.6" fill="url(#gd)"/>
<circle cx="513.1" cy="527.6" r="1.6" fill="url(#gd)"/>
<circle cx="507.1" cy="531.8" r="1.6" fill="url(#gd)"/>
<circle cx="513.1" cy="531.8" r="1.6" fill="url(#gk)"/>
<text transform="translate(498.25,546.30) scale(1,1.04)" font-size="8.7" text-anchor="middle" fill="#2090a2" stroke="#2090a2" stroke-width="0.15" >MG</text>
<circle cx="537.9" cy="523.4" r="1.6" fill="url(#gd)"/>
<circle cx="543.8" cy="523.4" r="1.6" fill="url(#gd)"/>
<circle cx="537.9" cy="527.6" r="1.6" fill="url(#gd)"/>
<circle cx="543.8" cy="527.6" r="1.6" fill="url(#gd)"/>
<circle cx="537.9" cy="531.8" r="1.6" fill="#5cb85c"/>
<circle cx="543.8" cy="531.8" r="1.6" fill="url(#gd)"/>
<circle cx="561.1" cy="523.4" r="1.6" fill="url(#gd)"/>
<circle cx="567.1" cy="523.4" r="1.6" fill="url(#gd)"/>
<circle cx="561.1" cy="527.6" r="1.6" fill="url(#gd)"/>
<circle cx="567.1" cy="527.6" r="1.6" fill="url(#gd)"/>
<circle cx="561.1" cy="531.8" r="1.6" fill="url(#gd)"/>
<circle cx="567.1" cy="531.8" r="1.6" fill="url(#gk)"/>
<text transform="translate(552.45,546.30) scale(1,1.04)" font-size="8.7" text-anchor="middle" fill="#c9c43a" stroke="#c9c43a" stroke-width="0.15" >SL</text>
<text x="0.00" y="0.00" font-size="10.1" text-anchor="middle" fill="#000" stroke="#000" stroke-width="0.27" transform="translate(243.1,284) rotate(-90)">Selectivity index (a.u.)</text>
<text x="0.00" y="0.00" font-size="10.1" text-anchor="middle" fill="#000" stroke="#000" stroke-width="0.27" transform="translate(243.1,464) rotate(-90)">Selectivity index (a.u.)</text>
<text transform="translate(0.00,80.10) scale(1,1.04)" font-size="7.05" fill="#3d70c4" stroke="#3d70c4" stroke-width="0.2" letter-spacing="-0.08">targeted muscle</text>
<g transform="translate(11.70,84.2)"><rect x="-1" y="52" width="28" height="3.5" fill="#f8f8f8"/><path d="M1.9,0L4.6,0L4.1,5L3.5,10L3.4,11L3.4,17.2L1.6,18L-0.4,16.3L-0.5,11L0.8,5ZM24.1,0L21.4,0L21.9,5L22.5,10L22.6,11L22.6,17.2L24.4,18L26.4,16.3L26.5,11L25.2,5Z" fill="#d6d6d6"/><path d="M4.6,0L4.5,4L4.8,10L5.5,18L6.4,25L7,29L7.6,34L8.6,42L9.8,48.5L9.9,52L10.3,54.6L12.6,54.6L12.5,48L12.5,36L12.7,26L12.9,14L13,10.5L13.1,14L13.3,26L13.5,36L13.5,48L13.4,54.6L15.7,54.6L16.1,52L16.2,48.5L17.4,42L18.4,34L19,29L19.6,25L20.5,18L21.2,10L21.5,4L21.4,0Z" fill="#dedede"/><path d="M7.5,1L13,12.5L18.5,1Z" fill="#e9e9e9"/><path d="M4.7,4L8.2,8L10.6,20L9.8,28.5L7.1,28.5L5.6,18ZM21.3,4L17.8,8L15.4,20L16.2,28.5L18.9,28.5L20.4,18Z" fill="#bdbdbd"/><path d="M7.7,32L9.8,33L11.4,46L9.7,47ZM18.3,32L16.2,33L14.6,46L16.3,47Z" fill="#cacaca"/><path d="M13,11V54.6" stroke="#efefef" stroke-width="0.7"/><path d="M5.6,8.8L8,10L10.6,18L11,26.8L9,27L6.5,20Z" fill="#6a90d2"/></g>
<text x="5" y="108" font-size="7.2" fill="#3d70c4" stroke="#3d70c4" stroke-width="0.25">RF<tspan font-size="3.9" dy="3.0">R</tspan></text>
<circle cx="59.5" cy="46.2" r="2.3" fill="#c2c2c2"/>
<text x="59.5" y="47.45" font-size="3.6" text-anchor="middle" fill="#efefef" font-weight="bold">1</text>
<text transform="translate(67.50,51.70) scale(1,1.04)" font-size="8.05" fill="#000" stroke="#000" stroke-width="0.27" >compare selectivity index</text>
<text transform="translate(75.90,69.40) scale(1,1.04)" font-size="6.85" text-anchor="middle" fill="#000" stroke="#000" stroke-width="0.27" >rostral</text>
<text transform="translate(75.90,77.40) scale(1,1.04)" font-size="6.85" text-anchor="middle" fill="#000" stroke="#000" stroke-width="0.27" >electrode</text>
<text transform="translate(111.80,69.40) scale(1,1.04)" font-size="6.85" text-anchor="middle" fill="#000" stroke="#000" stroke-width="0.27" >middle</text>
<text transform="translate(111.80,77.40) scale(1,1.04)" font-size="6.85" text-anchor="middle" fill="#000" stroke="#000" stroke-width="0.27" >electrode</text>
<text transform="translate(148.30,69.40) scale(1,1.04)" font-size="6.85" text-anchor="middle" fill="#000" stroke="#000" stroke-width="0.27" >caudal</text>
<text transform="translate(148.30,77.40) scale(1,1.04)" font-size="6.85" text-anchor="middle" fill="#000" stroke="#000" stroke-width="0.27" >electrode</text>
<circle cx="72.1" cy="86.8" r="2.4" fill="url(#gd)"/>
<circle cx="80.0" cy="86.8" r="2.4" fill="url(#gk)"/>
<circle cx="72.1" cy="92.8" r="2.4" fill="url(#gd)"/>
<circle cx="80.0" cy="92.8" r="2.4" fill="url(#gd)"/>
<circle cx="72.1" cy="98.8" r="2.4" fill="url(#gd)"/>
<circle cx="80.0" cy="98.8" r="2.4" fill="url(#gd)"/>
<circle cx="108.4" cy="86.8" r="2.4" fill="url(#gd)"/>
<circle cx="116.4" cy="86.8" r="2.4" fill="url(#gd)"/>
<circle cx="108.4" cy="92.8" r="2.4" fill="url(#gd)"/>
<circle cx="116.4" cy="92.8" r="2.4" fill="url(#gk)"/>
<circle cx="108.4" cy="98.8" r="2.4" fill="url(#gd)"/>
<circle cx="116.4" cy="98.8" r="2.4" fill="url(#gd)"/>
<circle cx="144.8" cy="86.8" r="2.4" fill="url(#gd)"/>
<circle cx="152.8" cy="86.8" r="2.4" fill="url(#gd)"/>
<circle cx="144.8" cy="92.8" r="2.4" fill="url(#gd)"/>
<circle cx="152.8" cy="92.8" r="2.4" fill="url(#gd)"/>
<circle cx="144.8" cy="98.8" r="2.4" fill="url(#gd)"/>
<circle cx="152.8" cy="98.8" r="2.4" fill="url(#gk)"/>
<g stroke="#222" stroke-width="0.7" fill="none"><path d="M75.9,104.4V123.6H104"/><path d="M75.9,113.2H85"/><path d="M112.4,104.4V113.2M103,113.2H122.5"/><path d="M148.5,104.4V123.6H119.5M148.5,113.2H139"/></g>
<path d="M86.5,113.2l-2.6,-1.1v2.2z" fill="#222"/>
<path d="M101.5,113.2l2.6,-1.1v2.2z" fill="#222"/>
<path d="M124,113.2l-2.6,-1.1v2.2z" fill="#222"/>
<path d="M137.5,113.2l2.6,-1.1v2.2z" fill="#222"/>
<path d="M105.5,123.6l-2.6,-1.1v2.2z" fill="#222"/>
<path d="M118,123.6l2.6,-1.1v2.2z" fill="#222"/>
<text transform="translate(94.00,115.60) scale(1,1.04)" font-size="6.85" text-anchor="middle" fill="#000" stroke="#000" stroke-width="0.27" >vs.</text>
<text transform="translate(130.80,115.60) scale(1,1.04)" font-size="6.85" text-anchor="middle" fill="#000" stroke="#000" stroke-width="0.27" >vs.</text>
<text transform="translate(111.80,126.00) scale(1,1.04)" font-size="6.85" text-anchor="middle" fill="#000" stroke="#000" stroke-width="0.27" >vs.</text>
<circle cx="59.7" cy="145.3" r="2.3" fill="#c2c2c2"/>
<text x="59.7" y="146.55" font-size="3.6" text-anchor="middle" fill="#efefef" font-weight="bold">2</text>
<text transform="translate(112.20,149.30) scale(1,1.04)" font-size="7.95" text-anchor="middle" fill="#000" stroke="#000" stroke-width="0.27" >identify target electrode</text>
<text transform="translate(112.20,158.70) scale(1,1.04)" font-size="7.95" text-anchor="middle" fill="#000" stroke="#000" stroke-width="0.27" >for targeted muscle</text>
<circle cx="108.2" cy="170.4" r="2.6" fill="url(#gd)"/>
<circle cx="116.4" cy="170.4" r="2.6" fill="#2a86d6"/>
<circle cx="108.2" cy="176.3" r="2.6" fill="url(#gd)"/>
<circle cx="116.4" cy="176.3" r="2.6" fill="url(#gd)"/>
<circle cx="108.2" cy="182.3" r="2.6" fill="url(#gd)"/>
<circle cx="116.4" cy="182.3" r="2.6" fill="url(#gd)"/>
<text transform="translate(7.70,264.80) scale(1,1.04)" font-size="7.05" fill="#3d70c4" stroke="#3d70c4" stroke-width="0.2" letter-spacing="-0.08">targeted muscle</text>
<g transform="translate(20.10,268.6)"><rect x="-1" y="52" width="28" height="3.5" fill="#f8f8f8"/><path d="M1.9,0L4.6,0L4.1,5L3.5,10L3.4,11L3.4,17.2L1.6,18L-0.4,16.3L-0.5,11L0.8,5ZM24.1,0L21.4,0L21.9,5L22.5,10L22.6,11L22.6,17.2L24.4,18L26.4,16.3L26.5,11L25.2,5Z" fill="#d6d6d6"/><path d="M4.6,0L4.5,4L4.8,10L5.5,18L6.4,25L7,29L7.6,34L8.6,42L9.8,48.5L9.9,52L10.3,54.6L12.6,54.6L12.5,48L12.5,36L12.7,26L12.9,14L13,10.5L13.1,14L13.3,26L13.5,36L13.5,48L13.4,54.6L15.7,54.6L16.1,52L16.2,48.5L17.4,42L18.4,34L19,29L19.6,25L20.5,18L21.2,10L21.5,4L21.4,0Z" fill="#dedede"/><path d="M7.5,1L13,12.5L18.5,1Z" fill="#e9e9e9"/><path d="M4.7,4L8.2,8L10.6,20L9.8,28.5L7.1,28.5L5.6,18ZM21.3,4L17.8,8L15.4,20L16.2,28.5L18.9,28.5L20.4,18Z" fill="#bdbdbd"/><path d="M7.7,32L9.8,33L11.4,46L9.7,47ZM18.3,32L16.2,33L14.6,46L16.3,47Z" fill="#cacaca"/><path d="M13,11V54.6" stroke="#efefef" stroke-width="0.7"/><path d="M5.6,8.8L8,10L10.6,18L11,26.8L9,27L6.5,20Z" fill="#6a90d2"/></g>
<text x="13" y="293" font-size="7.2" fill="#3d70c4" stroke="#3d70c4" stroke-width="0.25">RF<tspan font-size="3.9" dy="3.0">R</tspan></text>
<text transform="translate(66.00,280.60) scale(1,1.04)" font-size="6.85" text-anchor="middle" fill="#69b5ea" stroke="#69b5ea" stroke-width="0.2" >target</text>
<text transform="translate(66.00,289.00) scale(1,1.04)" font-size="6.85" text-anchor="middle" fill="#69b5ea" stroke="#69b5ea" stroke-width="0.2" >electrode</text>
<line x1="57.00" y1="293.50" x2="73.00" y2="293.50" stroke="#111" stroke-width="0.85" />
<path d="M75.4,293.5l-2.6,-1.1v2.2z" fill="#222"/>
<text transform="translate(113.30,264.00) scale(1,1.04)" font-size="6.85" text-anchor="middle" fill="#000" stroke="#000" stroke-width="0.27" >conventional</text>
<text transform="translate(113.30,272.60) scale(1,1.04)" font-size="6.85" text-anchor="middle" fill="#000" stroke="#000" stroke-width="0.27" >single electrode</text>
<g transform="translate(88.5,277)"><path d="M4.3,0.3Q25,-0.6 45.7,0.3L47.4,8Q49,20 50,31.5H0Q1,20 2.6,8Z" fill="url(#gtor)"/><path d="M9.8,1.5Q8.4,14 9.2,31.5M40.2,1.5Q41.6,14 40.8,31.5" stroke="#dedede" stroke-width="0.6" fill="none"/></g>
<rect x="110" y="288" width="6" height="9.7" rx="1.2" fill="url(#ge)"/>
<text transform="translate(150.00,306.50) scale(1,1.04)" font-size="6.85" text-anchor="middle" fill="#000" stroke="#000" stroke-width="0.27" >vs.</text>
<text transform="translate(187.90,264.00) scale(1,1.04)" font-size="6.85" text-anchor="middle" fill="#000" stroke="#000" stroke-width="0.27" >ipsilateral</text>
<text transform="translate(187.90,272.60) scale(1,1.04)" font-size="6.85" text-anchor="middle" fill="#000" stroke="#000" stroke-width="0.27" >target electrode</text>
<g transform="translate(162.5,277)"><path d="M4.3,0.3Q25,-0.6 45.7,0.3L47.4,8Q49,20 50,31.5H0Q1,20 2.6,8Z" fill="url(#gtor)"/><path d="M9.8,1.5Q8.4,14 9.2,31.5M40.2,1.5Q41.6,14 40.8,31.5" stroke="#dedede" stroke-width="0.6" fill="none"/></g>
<circle cx="183.8" cy="288.0" r="1.9" fill="url(#gd)"/>
<circle cx="189.5" cy="288.0" r="1.9" fill="#2a86d6"/>
<circle cx="183.8" cy="292.4" r="1.9" fill="url(#gd)"/>
<circle cx="189.5" cy="292.4" r="1.9" fill="url(#gd)"/>
<circle cx="183.8" cy="296.8" r="1.9" fill="url(#gd)"/>
<circle cx="189.5" cy="296.8" r="1.9" fill="url(#gd)"/>
<text transform="translate(11.90,443.30) scale(1,1.04)" font-size="7.05" fill="#3d70c4" stroke="#3d70c4" stroke-width="0.2" letter-spacing="-0.08">targeted muscle</text>
<g transform="translate(24.05,447.9)"><rect x="-1" y="52" width="28" height="3.5" fill="#f8f8f8"/><path d="M1.9,0L4.6,0L4.1,5L3.5,10L3.4,11L3.4,17.2L1.6,18L-0.4,16.3L-0.5,11L0.8,5ZM24.1,0L21.4,0L21.9,5L22.5,10L22.6,11L22.6,17.2L24.4,18L26.4,16.3L26.5,11L25.2,5Z" fill="#d6d6d6"/><path d="M4.6,0L4.5,4L4.8,10L5.5,18L6.4,25L7,29L7.6,34L8.6,42L9.8,48.5L9.9,52L10.3,54.6L12.6,54.6L12.5,48L12.5,36L12.7,26L12.9,14L13,10.5L13.1,14L13.3,26L13.5,36L13.5,48L13.4,54.6L15.7,54.6L16.1,52L16.2,48.5L17.4,42L18.4,34L19,29L19.6,25L20.5,18L21.2,10L21.5,4L21.4,0Z" fill="#dedede"/><path d="M7.5,1L13,12.5L18.5,1Z" fill="#e9e9e9"/><path d="M4.7,4L8.2,8L10.6,20L9.8,28.5L7.1,28.5L5.6,18ZM21.3,4L17.8,8L15.4,20L16.2,28.5L18.9,28.5L20.4,18Z" fill="#bdbdbd"/><path d="M7.7,32L9.8,33L11.4,46L9.7,47ZM18.3,32L16.2,33L14.6,46L16.3,47Z" fill="#cacaca"/><path d="M13,11V54.6" stroke="#efefef" stroke-width="0.7"/><path d="M20.4,8.8L18,10L16.4,18L16.8,26.8L18.8,27L21.4,20Z" fill="#6a90d2"/></g>
<text x="47" y="472" font-size="7.2" fill="#3d70c4" stroke="#3d70c4" stroke-width="0.25">RF<tspan font-size="3.9" dy="3.0">L</tspan></text>
<text transform="translate(70.20,452.50) scale(1,1.04)" font-size="6.85" text-anchor="middle" fill="#69b5ea" stroke="#69b5ea" stroke-width="0.15" >target</text>
<text transform="translate(70.20,461.30) scale(1,1.04)" font-size="6.85" text-anchor="middle" fill="#69b5ea" stroke="#69b5ea" stroke-width="0.15" >electrode</text>
<line x1="61.20" y1="465.50" x2="76.60" y2="465.50" stroke="#222" stroke-width="0.7" />
<path d="M78.8,465.5l-2.6,-1.1v2.2z" fill="#222"/>
<text transform="translate(113.20,443.30) scale(1,1.04)" font-size="6.85" text-anchor="middle" fill="#000" stroke="#000" stroke-width="0.27" >ipsilateral</text>
<text transform="translate(113.20,451.60) scale(1,1.04)" font-size="6.85" text-anchor="middle" fill="#000" stroke="#000" stroke-width="0.27" >target electrode</text>
<g transform="translate(88.3,456)"><path d="M4.3,0.3Q25,-0.6 45.7,0.3L47.4,8Q49,20 50,31.5H0Q1,20 2.6,8Z" fill="url(#gtor)"/><path d="M9.8,1.5Q8.4,14 9.2,31.5M40.2,1.5Q41.6,14 40.8,31.5" stroke="#dedede" stroke-width="0.6" fill="none"/></g>
<circle cx="109.8" cy="466.7" r="1.9" fill="#2a86d6"/>
<circle cx="115.5" cy="466.7" r="1.9" fill="url(#gd)"/>
<circle cx="109.8" cy="471.4" r="1.9" fill="url(#gd)"/>
<circle cx="115.5" cy="471.4" r="1.9" fill="url(#gd)"/>
<circle cx="109.8" cy="476.1" r="1.9" fill="url(#gd)"/>
<circle cx="115.5" cy="476.1" r="1.9" fill="url(#gd)"/>
<text transform="translate(156.00,487.60) scale(1,1.04)" font-size="6.85" text-anchor="middle" fill="#000" stroke="#000" stroke-width="0.27" >vs.</text>
<text transform="translate(198.00,443.30) scale(1,1.04)" font-size="6.85" text-anchor="middle" fill="#000" stroke="#000" stroke-width="0.27" >contralateral</text>
<text transform="translate(198.00,451.60) scale(1,1.04)" font-size="6.85" text-anchor="middle" fill="#000" stroke="#000" stroke-width="0.27" >electrode</text>
<g transform="translate(173.5,456)"><path d="M4.3,0.3Q25,-0.6 45.7,0.3L47.4,8Q49,20 50,31.5H0Q1,20 2.6,8Z" fill="url(#gtor)"/><path d="M9.8,1.5Q8.4,14 9.2,31.5M40.2,1.5Q41.6,14 40.8,31.5" stroke="#dedede" stroke-width="0.6" fill="none"/></g>
<circle cx="194.6" cy="466.7" r="1.9" fill="url(#gd)"/>
<circle cx="200.3" cy="466.7" r="1.9" fill="url(#gk)"/>
<circle cx="194.6" cy="471.4" r="1.9" fill="url(#gd)"/>
<circle cx="200.3" cy="471.4" r="1.9" fill="url(#gd)"/>
<circle cx="194.6" cy="476.1" r="1.9" fill="url(#gd)"/>
<circle cx="200.3" cy="476.1" r="1.9" fill="url(#gd)"/>
</svg>
</body></html>
